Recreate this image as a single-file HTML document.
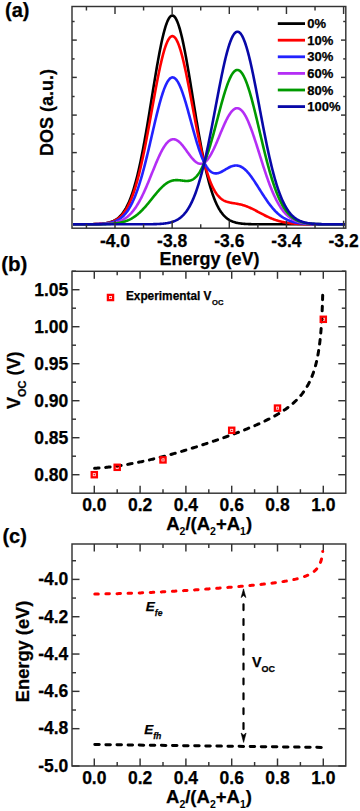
<!DOCTYPE html>
<html><head><meta charset="utf-8"><style>
html,body{margin:0;padding:0;background:#fff;width:360px;height:811px;overflow:hidden}
svg{display:block}
text{font-family:"Liberation Sans", sans-serif;font-weight:bold;fill:#000;stroke:#000;stroke-width:0.25px}
</style></head><body>
<svg width="360" height="811" viewBox="0 0 360 811">
<rect width="360" height="811" fill="#fff"/>
<g id="pa">
<path d="M73.0,224.30 L73.5,224.30 L74.0,224.30 L74.5,224.30 L75.0,224.30 L75.5,224.30 L76.0,224.30 L76.5,224.30 L77.0,224.30 L77.5,224.30 L78.0,224.29 L78.5,224.29 L79.0,224.29 L79.5,224.29 L80.0,224.29 L80.5,224.29 L81.0,224.29 L81.5,224.29 L82.0,224.29 L82.5,224.29 L83.0,224.28 L83.5,224.28 L84.0,224.28 L84.5,224.28 L85.0,224.28 L85.5,224.27 L86.0,224.27 L86.5,224.27 L87.0,224.26 L87.5,224.26 L88.0,224.26 L88.5,224.25 L89.0,224.25 L89.5,224.24 L90.0,224.23 L90.5,224.23 L91.0,224.22 L91.5,224.21 L92.0,224.20 L92.5,224.19 L93.0,224.18 L93.5,224.17 L94.0,224.16 L94.5,224.15 L95.0,224.13 L95.5,224.11 L96.0,224.10 L96.5,224.08 L97.0,224.06 L97.5,224.03 L98.0,224.01 L98.5,223.98 L99.0,223.95 L99.5,223.92 L100.0,223.89 L100.5,223.85 L101.0,223.81 L101.5,223.77 L102.0,223.72 L102.5,223.67 L103.0,223.61 L103.5,223.56 L104.0,223.49 L104.5,223.42 L105.0,223.35 L105.5,223.27 L106.0,223.19 L106.5,223.10 L107.0,223.00 L107.5,222.89 L108.0,222.78 L108.5,222.66 L109.0,222.53 L109.5,222.39 L110.0,222.25 L110.5,222.09 L111.0,221.92 L111.5,221.74 L112.0,221.55 L112.5,221.35 L113.0,221.13 L113.5,220.90 L114.0,220.65 L114.5,220.39 L115.0,220.12 L115.5,219.82 L116.0,219.51 L116.5,219.18 L117.0,218.83 L117.5,218.46 L118.0,218.07 L118.5,217.65 L119.0,217.21 L119.5,216.75 L120.0,216.26 L120.5,215.75 L121.0,215.21 L121.5,214.64 L122.0,214.04 L122.5,213.41 L123.0,212.75 L123.5,212.05 L124.0,211.32 L124.5,210.56 L125.0,209.76 L125.5,208.92 L126.0,208.05 L126.5,207.13 L127.0,206.17 L127.5,205.17 L128.0,204.13 L128.5,203.04 L129.0,201.91 L129.5,200.73 L130.0,199.51 L130.5,198.24 L131.0,196.91 L131.5,195.54 L132.0,194.12 L132.5,192.64 L133.0,191.12 L133.5,189.54 L134.0,187.91 L134.5,186.22 L135.0,184.48 L135.5,182.68 L136.0,180.83 L136.5,178.92 L137.0,176.96 L137.5,174.94 L138.0,172.87 L138.5,170.74 L139.0,168.56 L139.5,166.32 L140.0,164.03 L140.5,161.68 L141.0,159.28 L141.5,156.83 L142.0,154.33 L142.5,151.79 L143.0,149.19 L143.5,146.54 L144.0,143.86 L144.5,141.12 L145.0,138.35 L145.5,135.53 L146.0,132.68 L146.5,129.80 L147.0,126.88 L147.5,123.93 L148.0,120.95 L148.5,117.94 L149.0,114.92 L149.5,111.88 L150.0,108.82 L150.5,105.74 L151.0,102.66 L151.5,99.57 L152.0,96.48 L152.5,93.39 L153.0,90.31 L153.5,87.24 L154.0,84.17 L154.5,81.13 L155.0,78.10 L155.5,75.11 L156.0,72.14 L156.5,69.20 L157.0,66.30 L157.5,63.44 L158.0,60.63 L158.5,57.87 L159.0,55.16 L159.5,52.51 L160.0,49.93 L160.5,47.41 L161.0,44.96 L161.5,42.58 L162.0,40.28 L162.5,38.07 L163.0,35.94 L163.5,33.90 L164.0,31.95 L164.5,30.09 L165.0,28.34 L165.5,26.69 L166.0,25.14 L166.5,23.70 L167.0,22.37 L167.5,21.15 L168.0,20.05 L168.5,19.06 L169.0,18.19 L169.5,17.44 L170.0,16.81 L170.5,16.30 L171.0,15.92 L171.5,15.66 L172.0,15.52 L172.5,15.51 L173.0,15.62 L173.5,15.86 L174.0,16.22 L174.5,16.70 L175.0,17.30 L175.5,18.03 L176.0,18.88 L176.5,19.84 L177.0,20.92 L177.5,22.12 L178.0,23.42 L178.5,24.84 L179.0,26.37 L179.5,28.00 L180.0,29.73 L180.5,31.57 L181.0,33.50 L181.5,35.52 L182.0,37.63 L182.5,39.83 L183.0,42.11 L183.5,44.47 L184.0,46.91 L184.5,49.42 L185.0,51.99 L185.5,54.63 L186.0,57.32 L186.5,60.07 L187.0,62.88 L187.5,65.73 L188.0,68.62 L188.5,71.55 L189.0,74.51 L189.5,77.50 L190.0,80.52 L190.5,83.56 L191.0,86.62 L191.5,89.69 L192.0,92.78 L192.5,95.86 L193.0,98.95 L193.5,102.04 L194.0,105.13 L194.5,108.20 L195.0,111.26 L195.5,114.31 L196.0,117.34 L196.5,120.35 L197.0,123.33 L197.5,126.29 L198.0,129.21 L198.5,132.11 L199.0,134.97 L199.5,137.79 L200.0,140.57 L200.5,143.31 L201.0,146.01 L201.5,148.66 L202.0,151.27 L202.5,153.83 L203.0,156.34 L203.5,158.80 L204.0,161.21 L204.5,163.56 L205.0,165.86 L205.5,168.11 L206.0,170.31 L206.5,172.45 L207.0,174.53 L207.5,176.56 L208.0,178.53 L208.5,180.45 L209.0,182.31 L209.5,184.12 L210.0,185.87 L210.5,187.57 L211.0,189.22 L211.5,190.81 L212.0,192.34 L212.5,193.83 L213.0,195.26 L213.5,196.64 L214.0,197.98 L214.5,199.26 L215.0,200.49 L215.5,201.68 L216.0,202.82 L216.5,203.92 L217.0,204.97 L217.5,205.98 L218.0,206.94 L218.5,207.87 L219.0,208.75 L219.5,209.60 L220.0,210.40 L220.5,211.17 L221.0,211.91 L221.5,212.61 L222.0,213.28 L222.5,213.92 L223.0,214.52 L223.5,215.10 L224.0,215.64 L224.5,216.16 L225.0,216.66 L225.5,217.12 L226.0,217.57 L226.5,217.99 L227.0,218.38 L227.5,218.76 L228.0,219.11 L228.5,219.45 L229.0,219.76 L229.5,220.06 L230.0,220.34 L230.5,220.60 L231.0,220.85 L231.5,221.09 L232.0,221.31 L232.5,221.51 L233.0,221.71 L233.5,221.89 L234.0,222.06 L234.5,222.22 L235.0,222.37 L235.5,222.51 L236.0,222.64 L236.5,222.76 L237.0,222.87 L237.5,222.98 L238.0,223.08 L238.5,223.17 L239.0,223.26 L239.5,223.34 L240.0,223.41 L240.5,223.48 L241.0,223.54 L241.5,223.60 L242.0,223.66 L242.5,223.71 L243.0,223.76 L243.5,223.80 L244.0,223.84 L244.5,223.88 L245.0,223.91 L245.5,223.95 L246.0,223.98 L246.5,224.00 L247.0,224.03 L247.5,224.05 L248.0,224.07 L248.5,224.09 L249.0,224.11 L249.5,224.13 L250.0,224.14 L250.5,224.16 L251.0,224.17 L251.5,224.18 L252.0,224.19 L252.5,224.20 L253.0,224.21 L253.5,224.22 L254.0,224.23 L254.5,224.23 L255.0,224.24 L255.5,224.25 L256.0,224.25 L256.5,224.26 L257.0,224.26 L257.5,224.26 L258.0,224.27 L258.5,224.27 L259.0,224.27 L259.5,224.28 L260.0,224.28 L260.5,224.28 L261.0,224.28 L261.5,224.28 L262.0,224.29 L262.5,224.29 L263.0,224.29 L263.5,224.29 L264.0,224.29 L264.5,224.29 L265.0,224.29 L265.5,224.29 L266.0,224.29 L266.5,224.29 L267.0,224.30 L267.5,224.30 L268.0,224.30 L268.5,224.30 L269.0,224.30 L269.5,224.30 L270.0,224.30 L270.5,224.30 L271.0,224.30 L271.5,224.30 L272.0,224.30 L272.5,224.30 L273.0,224.30 L273.5,224.30 L274.0,224.30 L274.5,224.30 L275.0,224.30 L275.5,224.30 L276.0,224.30 L276.5,224.30 L277.0,224.30 L277.5,224.30 L278.0,224.30 L278.5,224.30 L279.0,224.30 L279.5,224.30 L280.0,224.30 L280.5,224.30 L281.0,224.30 L281.5,224.30 L282.0,224.30 L282.5,224.30 L283.0,224.30 L283.5,224.30 L284.0,224.30 L284.5,224.30 L285.0,224.30 L285.5,224.30 L286.0,224.30 L286.5,224.30 L287.0,224.30 L287.5,224.30 L288.0,224.30 L288.5,224.30 L289.0,224.30 L289.5,224.30 L290.0,224.30 L290.5,224.30 L291.0,224.30 L291.5,224.30 L292.0,224.30 L292.5,224.30 L293.0,224.30 L293.5,224.30 L294.0,224.30 L294.5,224.30 L295.0,224.30 L295.5,224.30 L296.0,224.30 L296.5,224.30 L297.0,224.30 L297.5,224.30 L298.0,224.30 L298.5,224.30 L299.0,224.30 L299.5,224.30 L300.0,224.30 L300.5,224.30 L301.0,224.30 L301.5,224.30 L302.0,224.30 L302.5,224.30 L303.0,224.30 L303.5,224.30 L304.0,224.30 L304.5,224.30 L305.0,224.30 L305.5,224.30 L306.0,224.30 L306.5,224.30 L307.0,224.30 L307.5,224.30 L308.0,224.30 L308.5,224.30 L309.0,224.30 L309.5,224.30 L310.0,224.30 L310.5,224.30 L311.0,224.30 L311.5,224.30 L312.0,224.30 L312.5,224.30 L313.0,224.30 L313.5,224.30 L314.0,224.30 L314.5,224.30 L315.0,224.30 L315.5,224.30 L316.0,224.30 L316.5,224.30 L317.0,224.30 L317.5,224.30 L318.0,224.30 L318.5,224.30 L319.0,224.30 L319.5,224.30 L320.0,224.30 L320.5,224.30 L321.0,224.30 L321.5,224.30 L322.0,224.30 L322.5,224.30 L323.0,224.30 L323.5,224.30 L324.0,224.30 L324.5,224.30 L325.0,224.30 L325.5,224.30 L326.0,224.30 L326.5,224.30 L327.0,224.30 L327.5,224.30 L328.0,224.30 L328.5,224.30 L329.0,224.30 L329.5,224.30 L330.0,224.30 L330.5,224.30 L331.0,224.30 L331.5,224.30 L332.0,224.30 L332.5,224.30 L333.0,224.30 L333.5,224.30 L334.0,224.30 L334.5,224.30 L335.0,224.30 L335.5,224.30 L336.0,224.30 L336.5,224.30 L337.0,224.30 L337.5,224.30 L338.0,224.30 L338.5,224.30 L339.0,224.30 L339.5,224.30 L340.0,224.30 L340.5,224.30 L341.0,224.30 L341.5,224.30 L342.0,224.30 L342.5,224.30 L343.0,224.30 L343.5,224.30 L344.0,224.30 L344.5,224.30 L345.0,224.30" fill="none" stroke="#000000" stroke-width="2.6" stroke-linejoin="round"/>
<path d="M73.0,224.30 L73.5,224.30 L74.0,224.30 L74.5,224.30 L75.0,224.30 L75.5,224.30 L76.0,224.30 L76.5,224.30 L77.0,224.30 L77.5,224.30 L78.0,224.30 L78.5,224.29 L79.0,224.29 L79.5,224.29 L80.0,224.29 L80.5,224.29 L81.0,224.29 L81.5,224.29 L82.0,224.29 L82.5,224.29 L83.0,224.29 L83.5,224.28 L84.0,224.28 L84.5,224.28 L85.0,224.28 L85.5,224.28 L86.0,224.27 L86.5,224.27 L87.0,224.27 L87.5,224.26 L88.0,224.26 L88.5,224.26 L89.0,224.25 L89.5,224.25 L90.0,224.24 L90.5,224.23 L91.0,224.23 L91.5,224.22 L92.0,224.21 L92.5,224.20 L93.0,224.19 L93.5,224.18 L94.0,224.17 L94.5,224.16 L95.0,224.15 L95.5,224.13 L96.0,224.12 L96.5,224.10 L97.0,224.08 L97.5,224.06 L98.0,224.04 L98.5,224.01 L99.0,223.99 L99.5,223.96 L100.0,223.93 L100.5,223.89 L101.0,223.86 L101.5,223.82 L102.0,223.78 L102.5,223.73 L103.0,223.68 L103.5,223.63 L104.0,223.57 L104.5,223.51 L105.0,223.45 L105.5,223.38 L106.0,223.30 L106.5,223.22 L107.0,223.13 L107.5,223.03 L108.0,222.93 L108.5,222.83 L109.0,222.71 L109.5,222.59 L110.0,222.45 L110.5,222.31 L111.0,222.16 L111.5,222.00 L112.0,221.83 L112.5,221.64 L113.0,221.45 L113.5,221.24 L114.0,221.02 L114.5,220.78 L115.0,220.53 L115.5,220.27 L116.0,219.99 L116.5,219.69 L117.0,219.38 L117.5,219.04 L118.0,218.69 L118.5,218.32 L119.0,217.92 L119.5,217.51 L120.0,217.07 L120.5,216.61 L121.0,216.12 L121.5,215.61 L122.0,215.07 L122.5,214.50 L123.0,213.90 L123.5,213.28 L124.0,212.62 L124.5,211.93 L125.0,211.21 L125.5,210.46 L126.0,209.67 L126.5,208.85 L127.0,207.98 L127.5,207.09 L128.0,206.15 L128.5,205.17 L129.0,204.15 L129.5,203.09 L130.0,201.99 L130.5,200.84 L131.0,199.65 L131.5,198.42 L132.0,197.14 L132.5,195.81 L133.0,194.44 L133.5,193.01 L134.0,191.54 L134.5,190.03 L135.0,188.46 L135.5,186.84 L136.0,185.18 L136.5,183.46 L137.0,181.69 L137.5,179.88 L138.0,178.01 L138.5,176.09 L139.0,174.13 L139.5,172.12 L140.0,170.05 L140.5,167.94 L141.0,165.78 L141.5,163.58 L142.0,161.33 L142.5,159.04 L143.0,156.70 L143.5,154.32 L144.0,151.90 L144.5,149.44 L145.0,146.94 L145.5,144.41 L146.0,141.84 L146.5,139.24 L147.0,136.61 L147.5,133.96 L148.0,131.28 L148.5,128.57 L149.0,125.85 L149.5,123.11 L150.0,120.36 L150.5,117.59 L151.0,114.82 L151.5,112.04 L152.0,109.25 L152.5,106.47 L153.0,103.70 L153.5,100.93 L154.0,98.17 L154.5,95.43 L155.0,92.71 L155.5,90.01 L156.0,87.33 L156.5,84.69 L157.0,82.08 L157.5,79.50 L158.0,76.97 L158.5,74.48 L159.0,72.04 L159.5,69.66 L160.0,67.32 L160.5,65.05 L161.0,62.84 L161.5,60.70 L162.0,58.63 L162.5,56.63 L163.0,54.71 L163.5,52.87 L164.0,51.11 L164.5,49.44 L165.0,47.85 L165.5,46.36 L166.0,44.96 L166.5,43.65 L167.0,42.45 L167.5,41.34 L168.0,40.34 L168.5,39.44 L169.0,38.65 L169.5,37.96 L170.0,37.39 L170.5,36.92 L171.0,36.56 L171.5,36.31 L172.0,36.17 L172.5,36.14 L173.0,36.23 L173.5,36.42 L174.0,36.73 L174.5,37.14 L175.0,37.66 L175.5,38.29 L176.0,39.03 L176.5,39.87 L177.0,40.82 L177.5,41.87 L178.0,43.02 L178.5,44.26 L179.0,45.60 L179.5,47.03 L180.0,48.56 L180.5,50.17 L181.0,51.87 L181.5,53.64 L182.0,55.50 L182.5,57.43 L183.0,59.44 L183.5,61.51 L184.0,63.65 L184.5,65.85 L185.0,68.10 L185.5,70.42 L186.0,72.78 L186.5,75.19 L187.0,77.64 L187.5,80.13 L188.0,82.65 L188.5,85.21 L189.0,87.79 L189.5,90.40 L190.0,93.03 L190.5,95.67 L191.0,98.33 L191.5,100.99 L192.0,103.66 L192.5,106.33 L193.0,109.00 L193.5,111.66 L194.0,114.32 L194.5,116.96 L195.0,119.59 L195.5,122.20 L196.0,124.79 L196.5,127.35 L197.0,129.89 L197.5,132.40 L198.0,134.88 L198.5,137.33 L199.0,139.73 L199.5,142.11 L200.0,144.44 L200.5,146.73 L201.0,148.98 L201.5,151.18 L202.0,153.33 L202.5,155.44 L203.0,157.50 L203.5,159.51 L204.0,161.47 L204.5,163.38 L205.0,165.24 L205.5,167.04 L206.0,168.80 L206.5,170.50 L207.0,172.14 L207.5,173.73 L208.0,175.27 L208.5,176.76 L209.0,178.19 L209.5,179.57 L210.0,180.90 L210.5,182.18 L211.0,183.40 L211.5,184.58 L212.0,185.70 L212.5,186.78 L213.0,187.81 L213.5,188.79 L214.0,189.72 L214.5,190.61 L215.0,191.46 L215.5,192.26 L216.0,193.02 L216.5,193.74 L217.0,194.42 L217.5,195.07 L218.0,195.67 L218.5,196.24 L219.0,196.78 L219.5,197.28 L220.0,197.76 L220.5,198.20 L221.0,198.61 L221.5,199.00 L222.0,199.36 L222.5,199.69 L223.0,200.00 L223.5,200.29 L224.0,200.56 L224.5,200.80 L225.0,201.03 L225.5,201.24 L226.0,201.44 L226.5,201.62 L227.0,201.79 L227.5,201.94 L228.0,202.08 L228.5,202.22 L229.0,202.34 L229.5,202.46 L230.0,202.56 L230.5,202.66 L231.0,202.76 L231.5,202.85 L232.0,202.94 L232.5,203.02 L233.0,203.10 L233.5,203.18 L234.0,203.26 L234.5,203.34 L235.0,203.42 L235.5,203.50 L236.0,203.59 L236.5,203.67 L237.0,203.76 L237.5,203.85 L238.0,203.94 L238.5,204.04 L239.0,204.15 L239.5,204.25 L240.0,204.36 L240.5,204.48 L241.0,204.60 L241.5,204.73 L242.0,204.86 L242.5,205.00 L243.0,205.14 L243.5,205.29 L244.0,205.45 L244.5,205.61 L245.0,205.78 L245.5,205.95 L246.0,206.13 L246.5,206.32 L247.0,206.51 L247.5,206.71 L248.0,206.91 L248.5,207.12 L249.0,207.33 L249.5,207.55 L250.0,207.77 L250.5,208.00 L251.0,208.23 L251.5,208.46 L252.0,208.70 L252.5,208.95 L253.0,209.19 L253.5,209.44 L254.0,209.70 L254.5,209.95 L255.0,210.21 L255.5,210.47 L256.0,210.73 L256.5,210.99 L257.0,211.26 L257.5,211.53 L258.0,211.79 L258.5,212.06 L259.0,212.33 L259.5,212.60 L260.0,212.86 L260.5,213.13 L261.0,213.40 L261.5,213.66 L262.0,213.93 L262.5,214.19 L263.0,214.45 L263.5,214.71 L264.0,214.97 L264.5,215.22 L265.0,215.48 L265.5,215.73 L266.0,215.97 L266.5,216.22 L267.0,216.46 L267.5,216.70 L268.0,216.93 L268.5,217.16 L269.0,217.39 L269.5,217.61 L270.0,217.83 L270.5,218.05 L271.0,218.26 L271.5,218.46 L272.0,218.67 L272.5,218.87 L273.0,219.06 L273.5,219.25 L274.0,219.44 L274.5,219.62 L275.0,219.79 L275.5,219.97 L276.0,220.13 L276.5,220.30 L277.0,220.46 L277.5,220.61 L278.0,220.76 L278.5,220.91 L279.0,221.05 L279.5,221.19 L280.0,221.32 L280.5,221.45 L281.0,221.57 L281.5,221.69 L282.0,221.81 L282.5,221.92 L283.0,222.03 L283.5,222.14 L284.0,222.24 L284.5,222.33 L285.0,222.43 L285.5,222.52 L286.0,222.60 L286.5,222.69 L287.0,222.77 L287.5,222.84 L288.0,222.92 L288.5,222.99 L289.0,223.06 L289.5,223.12 L290.0,223.18 L290.5,223.24 L291.0,223.30 L291.5,223.35 L292.0,223.40 L292.5,223.45 L293.0,223.50 L293.5,223.55 L294.0,223.59 L294.5,223.63 L295.0,223.67 L295.5,223.70 L296.0,223.74 L296.5,223.77 L297.0,223.80 L297.5,223.83 L298.0,223.86 L298.5,223.89 L299.0,223.91 L299.5,223.94 L300.0,223.96 L300.5,223.98 L301.0,224.00 L301.5,224.02 L302.0,224.04 L302.5,224.06 L303.0,224.07 L303.5,224.09 L304.0,224.10 L304.5,224.11 L305.0,224.13 L305.5,224.14 L306.0,224.15 L306.5,224.16 L307.0,224.17 L307.5,224.18 L308.0,224.19 L308.5,224.19 L309.0,224.20 L309.5,224.21 L310.0,224.22 L310.5,224.22 L311.0,224.23 L311.5,224.23 L312.0,224.24 L312.5,224.24 L313.0,224.25 L313.5,224.25 L314.0,224.25 L314.5,224.26 L315.0,224.26 L315.5,224.26 L316.0,224.27 L316.5,224.27 L317.0,224.27 L317.5,224.27 L318.0,224.28 L318.5,224.28 L319.0,224.28 L319.5,224.28 L320.0,224.28 L320.5,224.28 L321.0,224.29 L321.5,224.29 L322.0,224.29 L322.5,224.29 L323.0,224.29 L323.5,224.29 L324.0,224.29 L324.5,224.29 L325.0,224.29 L325.5,224.29 L326.0,224.29 L326.5,224.29 L327.0,224.30 L327.5,224.30 L328.0,224.30 L328.5,224.30 L329.0,224.30 L329.5,224.30 L330.0,224.30 L330.5,224.30 L331.0,224.30 L331.5,224.30 L332.0,224.30 L332.5,224.30 L333.0,224.30 L333.5,224.30 L334.0,224.30 L334.5,224.30 L335.0,224.30 L335.5,224.30 L336.0,224.30 L336.5,224.30 L337.0,224.30 L337.5,224.30 L338.0,224.30 L338.5,224.30 L339.0,224.30 L339.5,224.30 L340.0,224.30 L340.5,224.30 L341.0,224.30 L341.5,224.30 L342.0,224.30 L342.5,224.30 L343.0,224.30 L343.5,224.30 L344.0,224.30 L344.5,224.30 L345.0,224.30" fill="none" stroke="#ff0000" stroke-width="2.6" stroke-linejoin="round"/>
<path d="M73.0,224.30 L73.5,224.30 L74.0,224.30 L74.5,224.30 L75.0,224.30 L75.5,224.30 L76.0,224.30 L76.5,224.30 L77.0,224.30 L77.5,224.30 L78.0,224.30 L78.5,224.30 L79.0,224.30 L79.5,224.29 L80.0,224.29 L80.5,224.29 L81.0,224.29 L81.5,224.29 L82.0,224.29 L82.5,224.29 L83.0,224.29 L83.5,224.29 L84.0,224.29 L84.5,224.28 L85.0,224.28 L85.5,224.28 L86.0,224.28 L86.5,224.28 L87.0,224.27 L87.5,224.27 L88.0,224.27 L88.5,224.27 L89.0,224.26 L89.5,224.26 L90.0,224.25 L90.5,224.25 L91.0,224.24 L91.5,224.24 L92.0,224.23 L92.5,224.23 L93.0,224.22 L93.5,224.21 L94.0,224.20 L94.5,224.19 L95.0,224.18 L95.5,224.17 L96.0,224.16 L96.5,224.14 L97.0,224.13 L97.5,224.11 L98.0,224.10 L98.5,224.08 L99.0,224.06 L99.5,224.03 L100.0,224.01 L100.5,223.98 L101.0,223.96 L101.5,223.93 L102.0,223.89 L102.5,223.86 L103.0,223.82 L103.5,223.78 L104.0,223.73 L104.5,223.69 L105.0,223.64 L105.5,223.58 L106.0,223.52 L106.5,223.46 L107.0,223.39 L107.5,223.32 L108.0,223.24 L108.5,223.15 L109.0,223.06 L109.5,222.97 L110.0,222.86 L110.5,222.75 L111.0,222.64 L111.5,222.51 L112.0,222.38 L112.5,222.23 L113.0,222.08 L113.5,221.92 L114.0,221.75 L114.5,221.57 L115.0,221.37 L115.5,221.17 L116.0,220.95 L116.5,220.72 L117.0,220.47 L117.5,220.21 L118.0,219.94 L118.5,219.65 L119.0,219.34 L119.5,219.02 L120.0,218.68 L120.5,218.32 L121.0,217.94 L121.5,217.54 L122.0,217.12 L122.5,216.68 L123.0,216.21 L123.5,215.73 L124.0,215.22 L124.5,214.68 L125.0,214.12 L125.5,213.54 L126.0,212.92 L126.5,212.28 L127.0,211.61 L127.5,210.91 L128.0,210.18 L128.5,209.42 L129.0,208.63 L129.5,207.80 L130.0,206.95 L130.5,206.06 L131.0,205.13 L131.5,204.17 L132.0,203.17 L132.5,202.14 L133.0,201.07 L133.5,199.97 L134.0,198.82 L134.5,197.64 L135.0,196.42 L135.5,195.17 L136.0,193.87 L136.5,192.53 L137.0,191.16 L137.5,189.75 L138.0,188.30 L138.5,186.81 L139.0,185.28 L139.5,183.71 L140.0,182.11 L140.5,180.46 L141.0,178.78 L141.5,177.07 L142.0,175.32 L142.5,173.53 L143.0,171.72 L143.5,169.86 L144.0,167.98 L144.5,166.07 L145.0,164.13 L145.5,162.15 L146.0,160.16 L146.5,158.14 L147.0,156.09 L147.5,154.02 L148.0,151.94 L148.5,149.84 L149.0,147.72 L149.5,145.58 L150.0,143.44 L150.5,141.29 L151.0,139.13 L151.5,136.96 L152.0,134.80 L152.5,132.63 L153.0,130.47 L153.5,128.32 L154.0,126.17 L154.5,124.03 L155.0,121.91 L155.5,119.81 L156.0,117.72 L156.5,115.66 L157.0,113.63 L157.5,111.62 L158.0,109.65 L158.5,107.71 L159.0,105.80 L159.5,103.94 L160.0,102.12 L160.5,100.35 L161.0,98.62 L161.5,96.95 L162.0,95.33 L162.5,93.76 L163.0,92.26 L163.5,90.81 L164.0,89.43 L164.5,88.12 L165.0,86.87 L165.5,85.70 L166.0,84.59 L166.5,83.56 L167.0,82.61 L167.5,81.73 L168.0,80.93 L168.5,80.21 L169.0,79.57 L169.5,79.01 L170.0,78.54 L170.5,78.14 L171.0,77.83 L171.5,77.61 L172.0,77.47 L172.5,77.41 L173.0,77.44 L173.5,77.55 L174.0,77.75 L174.5,78.02 L175.0,78.38 L175.5,78.82 L176.0,79.34 L176.5,79.94 L177.0,80.62 L177.5,81.37 L178.0,82.20 L178.5,83.10 L179.0,84.06 L179.5,85.10 L180.0,86.21 L180.5,87.37 L181.0,88.60 L181.5,89.89 L182.0,91.24 L182.5,92.63 L183.0,94.08 L183.5,95.58 L184.0,97.12 L184.5,98.71 L185.0,100.33 L185.5,101.99 L186.0,103.69 L186.5,105.41 L187.0,107.16 L187.5,108.93 L188.0,110.72 L188.5,112.54 L189.0,114.36 L189.5,116.20 L190.0,118.04 L190.5,119.89 L191.0,121.74 L191.5,123.58 L192.0,125.43 L192.5,127.26 L193.0,129.09 L193.5,130.90 L194.0,132.70 L194.5,134.48 L195.0,136.23 L195.5,137.97 L196.0,139.68 L196.5,141.36 L197.0,143.01 L197.5,144.63 L198.0,146.21 L198.5,147.76 L199.0,149.27 L199.5,150.74 L200.0,152.17 L200.5,153.56 L201.0,154.91 L201.5,156.21 L202.0,157.46 L202.5,158.67 L203.0,159.83 L203.5,160.94 L204.0,162.01 L204.5,163.02 L205.0,163.99 L205.5,164.91 L206.0,165.77 L206.5,166.59 L207.0,167.36 L207.5,168.08 L208.0,168.75 L208.5,169.37 L209.0,169.94 L209.5,170.47 L210.0,170.95 L210.5,171.38 L211.0,171.77 L211.5,172.11 L212.0,172.42 L212.5,172.68 L213.0,172.89 L213.5,173.07 L214.0,173.21 L214.5,173.32 L215.0,173.39 L215.5,173.42 L216.0,173.42 L216.5,173.39 L217.0,173.34 L217.5,173.25 L218.0,173.14 L218.5,173.00 L219.0,172.84 L219.5,172.66 L220.0,172.46 L220.5,172.25 L221.0,172.01 L221.5,171.77 L222.0,171.51 L222.5,171.24 L223.0,170.96 L223.5,170.67 L224.0,170.38 L224.5,170.08 L225.0,169.78 L225.5,169.48 L226.0,169.19 L226.5,168.89 L227.0,168.60 L227.5,168.31 L228.0,168.03 L228.5,167.76 L229.0,167.50 L229.5,167.25 L230.0,167.01 L230.5,166.78 L231.0,166.57 L231.5,166.38 L232.0,166.20 L232.5,166.04 L233.0,165.90 L233.5,165.78 L234.0,165.68 L234.5,165.60 L235.0,165.54 L235.5,165.50 L236.0,165.49 L236.5,165.50 L237.0,165.54 L237.5,165.60 L238.0,165.68 L238.5,165.79 L239.0,165.92 L239.5,166.08 L240.0,166.27 L240.5,166.48 L241.0,166.72 L241.5,166.98 L242.0,167.27 L242.5,167.58 L243.0,167.92 L243.5,168.28 L244.0,168.67 L244.5,169.08 L245.0,169.51 L245.5,169.97 L246.0,170.45 L246.5,170.95 L247.0,171.47 L247.5,172.02 L248.0,172.58 L248.5,173.16 L249.0,173.77 L249.5,174.39 L250.0,175.02 L250.5,175.68 L251.0,176.34 L251.5,177.03 L252.0,177.72 L252.5,178.43 L253.0,179.16 L253.5,179.89 L254.0,180.63 L254.5,181.39 L255.0,182.15 L255.5,182.92 L256.0,183.69 L256.5,184.47 L257.0,185.26 L257.5,186.05 L258.0,186.85 L258.5,187.64 L259.0,188.44 L259.5,189.24 L260.0,190.04 L260.5,190.83 L261.0,191.63 L261.5,192.42 L262.0,193.21 L262.5,194.00 L263.0,194.78 L263.5,195.55 L264.0,196.32 L264.5,197.09 L265.0,197.84 L265.5,198.59 L266.0,199.33 L266.5,200.06 L267.0,200.78 L267.5,201.49 L268.0,202.20 L268.5,202.89 L269.0,203.57 L269.5,204.24 L270.0,204.89 L270.5,205.54 L271.0,206.17 L271.5,206.79 L272.0,207.40 L272.5,208.00 L273.0,208.58 L273.5,209.15 L274.0,209.71 L274.5,210.25 L275.0,210.78 L275.5,211.30 L276.0,211.80 L276.5,212.29 L277.0,212.77 L277.5,213.24 L278.0,213.69 L278.5,214.12 L279.0,214.55 L279.5,214.96 L280.0,215.36 L280.5,215.74 L281.0,216.12 L281.5,216.48 L282.0,216.83 L282.5,217.17 L283.0,217.49 L283.5,217.81 L284.0,218.11 L284.5,218.40 L285.0,218.68 L285.5,218.95 L286.0,219.21 L286.5,219.46 L287.0,219.70 L287.5,219.93 L288.0,220.15 L288.5,220.37 L289.0,220.57 L289.5,220.76 L290.0,220.95 L290.5,221.13 L291.0,221.30 L291.5,221.46 L292.0,221.61 L292.5,221.76 L293.0,221.90 L293.5,222.04 L294.0,222.16 L294.5,222.29 L295.0,222.40 L295.5,222.51 L296.0,222.62 L296.5,222.72 L297.0,222.81 L297.5,222.90 L298.0,222.98 L298.5,223.06 L299.0,223.14 L299.5,223.21 L300.0,223.28 L300.5,223.34 L301.0,223.40 L301.5,223.46 L302.0,223.51 L302.5,223.57 L303.0,223.61 L303.5,223.66 L304.0,223.70 L304.5,223.74 L305.0,223.78 L305.5,223.81 L306.0,223.85 L306.5,223.88 L307.0,223.91 L307.5,223.93 L308.0,223.96 L308.5,223.98 L309.0,224.01 L309.5,224.03 L310.0,224.05 L310.5,224.07 L311.0,224.08 L311.5,224.10 L312.0,224.11 L312.5,224.13 L313.0,224.14 L313.5,224.15 L314.0,224.16 L314.5,224.17 L315.0,224.18 L315.5,224.19 L316.0,224.20 L316.5,224.21 L317.0,224.22 L317.5,224.22 L318.0,224.23 L318.5,224.23 L319.0,224.24 L319.5,224.24 L320.0,224.25 L320.5,224.25 L321.0,224.26 L321.5,224.26 L322.0,224.26 L322.5,224.27 L323.0,224.27 L323.5,224.27 L324.0,224.27 L324.5,224.28 L325.0,224.28 L325.5,224.28 L326.0,224.28 L326.5,224.28 L327.0,224.29 L327.5,224.29 L328.0,224.29 L328.5,224.29 L329.0,224.29 L329.5,224.29 L330.0,224.29 L330.5,224.29 L331.0,224.29 L331.5,224.29 L332.0,224.29 L332.5,224.29 L333.0,224.30 L333.5,224.30 L334.0,224.30 L334.5,224.30 L335.0,224.30 L335.5,224.30 L336.0,224.30 L336.5,224.30 L337.0,224.30 L337.5,224.30 L338.0,224.30 L338.5,224.30 L339.0,224.30 L339.5,224.30 L340.0,224.30 L340.5,224.30 L341.0,224.30 L341.5,224.30 L342.0,224.30 L342.5,224.30 L343.0,224.30 L343.5,224.30 L344.0,224.30 L344.5,224.30 L345.0,224.30" fill="none" stroke="#2222ff" stroke-width="2.6" stroke-linejoin="round"/>
<path d="M73.0,224.30 L73.5,224.30 L74.0,224.30 L74.5,224.30 L75.0,224.30 L75.5,224.30 L76.0,224.30 L76.5,224.30 L77.0,224.30 L77.5,224.30 L78.0,224.30 L78.5,224.30 L79.0,224.30 L79.5,224.30 L80.0,224.30 L80.5,224.30 L81.0,224.30 L81.5,224.30 L82.0,224.29 L82.5,224.29 L83.0,224.29 L83.5,224.29 L84.0,224.29 L84.5,224.29 L85.0,224.29 L85.5,224.29 L86.0,224.29 L86.5,224.29 L87.0,224.29 L87.5,224.28 L88.0,224.28 L88.5,224.28 L89.0,224.28 L89.5,224.28 L90.0,224.27 L90.5,224.27 L91.0,224.27 L91.5,224.26 L92.0,224.26 L92.5,224.26 L93.0,224.25 L93.5,224.25 L94.0,224.24 L94.5,224.24 L95.0,224.23 L95.5,224.23 L96.0,224.22 L96.5,224.21 L97.0,224.20 L97.5,224.19 L98.0,224.18 L98.5,224.17 L99.0,224.16 L99.5,224.15 L100.0,224.13 L100.5,224.12 L101.0,224.10 L101.5,224.09 L102.0,224.07 L102.5,224.05 L103.0,224.03 L103.5,224.00 L104.0,223.98 L104.5,223.95 L105.0,223.92 L105.5,223.89 L106.0,223.86 L106.5,223.82 L107.0,223.78 L107.5,223.74 L108.0,223.69 L108.5,223.64 L109.0,223.59 L109.5,223.54 L110.0,223.48 L110.5,223.42 L111.0,223.35 L111.5,223.28 L112.0,223.20 L112.5,223.12 L113.0,223.03 L113.5,222.94 L114.0,222.84 L114.5,222.74 L115.0,222.63 L115.5,222.51 L116.0,222.38 L116.5,222.25 L117.0,222.11 L117.5,221.96 L118.0,221.81 L118.5,221.64 L119.0,221.47 L119.5,221.28 L120.0,221.09 L120.5,220.88 L121.0,220.66 L121.5,220.44 L122.0,220.20 L122.5,219.94 L123.0,219.68 L123.5,219.40 L124.0,219.11 L124.5,218.80 L125.0,218.48 L125.5,218.15 L126.0,217.80 L126.5,217.43 L127.0,217.05 L127.5,216.65 L128.0,216.23 L128.5,215.80 L129.0,215.34 L129.5,214.87 L130.0,214.38 L130.5,213.87 L131.0,213.34 L131.5,212.80 L132.0,212.23 L132.5,211.64 L133.0,211.03 L133.5,210.39 L134.0,209.74 L134.5,209.07 L135.0,208.37 L135.5,207.65 L136.0,206.91 L136.5,206.15 L137.0,205.36 L137.5,204.55 L138.0,203.72 L138.5,202.87 L139.0,202.00 L139.5,201.10 L140.0,200.18 L140.5,199.25 L141.0,198.29 L141.5,197.31 L142.0,196.30 L142.5,195.28 L143.0,194.24 L143.5,193.19 L144.0,192.11 L144.5,191.01 L145.0,189.90 L145.5,188.78 L146.0,187.63 L146.5,186.48 L147.0,185.31 L147.5,184.12 L148.0,182.93 L148.5,181.73 L149.0,180.51 L149.5,179.29 L150.0,178.06 L150.5,176.83 L151.0,175.59 L151.5,174.35 L152.0,173.11 L152.5,171.87 L153.0,170.63 L153.5,169.40 L154.0,168.16 L154.5,166.94 L155.0,165.72 L155.5,164.51 L156.0,163.31 L156.5,162.13 L157.0,160.96 L157.5,159.80 L158.0,158.66 L158.5,157.54 L159.0,156.45 L159.5,155.37 L160.0,154.32 L160.5,153.29 L161.0,152.29 L161.5,151.32 L162.0,150.37 L162.5,149.46 L163.0,148.58 L163.5,147.73 L164.0,146.92 L164.5,146.15 L165.0,145.41 L165.5,144.71 L166.0,144.05 L166.5,143.43 L167.0,142.85 L167.5,142.31 L168.0,141.81 L168.5,141.36 L169.0,140.95 L169.5,140.58 L170.0,140.26 L170.5,139.98 L171.0,139.75 L171.5,139.56 L172.0,139.41 L172.5,139.31 L173.0,139.26 L173.5,139.24 L174.0,139.27 L174.5,139.35 L175.0,139.46 L175.5,139.61 L176.0,139.81 L176.5,140.04 L177.0,140.31 L177.5,140.62 L178.0,140.97 L178.5,141.35 L179.0,141.76 L179.5,142.20 L180.0,142.68 L180.5,143.18 L181.0,143.71 L181.5,144.26 L182.0,144.84 L182.5,145.44 L183.0,146.05 L183.5,146.69 L184.0,147.34 L184.5,148.00 L185.0,148.67 L185.5,149.36 L186.0,150.05 L186.5,150.74 L187.0,151.44 L187.5,152.14 L188.0,152.83 L188.5,153.52 L189.0,154.21 L189.5,154.89 L190.0,155.55 L190.5,156.21 L191.0,156.85 L191.5,157.47 L192.0,158.08 L192.5,158.66 L193.0,159.22 L193.5,159.76 L194.0,160.27 L194.5,160.75 L195.0,161.20 L195.5,161.62 L196.0,162.01 L196.5,162.37 L197.0,162.68 L197.5,162.97 L198.0,163.21 L198.5,163.41 L199.0,163.58 L199.5,163.70 L200.0,163.78 L200.5,163.81 L201.0,163.80 L201.5,163.75 L202.0,163.65 L202.5,163.51 L203.0,163.32 L203.5,163.09 L204.0,162.81 L204.5,162.49 L205.0,162.12 L205.5,161.70 L206.0,161.24 L206.5,160.74 L207.0,160.19 L207.5,159.60 L208.0,158.96 L208.5,158.29 L209.0,157.57 L209.5,156.82 L210.0,156.02 L210.5,155.19 L211.0,154.32 L211.5,153.42 L212.0,152.49 L212.5,151.52 L213.0,150.53 L213.5,149.50 L214.0,148.45 L214.5,147.38 L215.0,146.28 L215.5,145.16 L216.0,144.03 L216.5,142.87 L217.0,141.70 L217.5,140.53 L218.0,139.34 L218.5,138.14 L219.0,136.94 L219.5,135.73 L220.0,134.52 L220.5,133.32 L221.0,132.11 L221.5,130.92 L222.0,129.73 L222.5,128.55 L223.0,127.39 L223.5,126.24 L224.0,125.11 L224.5,124.00 L225.0,122.91 L225.5,121.84 L226.0,120.80 L226.5,119.79 L227.0,118.81 L227.5,117.86 L228.0,116.95 L228.5,116.07 L229.0,115.24 L229.5,114.44 L230.0,113.68 L230.5,112.97 L231.0,112.30 L231.5,111.67 L232.0,111.10 L232.5,110.57 L233.0,110.09 L233.5,109.67 L234.0,109.30 L234.5,108.98 L235.0,108.71 L235.5,108.50 L236.0,108.34 L236.5,108.24 L237.0,108.20 L237.5,108.21 L238.0,108.28 L238.5,108.41 L239.0,108.59 L239.5,108.83 L240.0,109.13 L240.5,109.48 L241.0,109.89 L241.5,110.36 L242.0,110.88 L242.5,111.45 L243.0,112.08 L243.5,112.76 L244.0,113.49 L244.5,114.28 L245.0,115.11 L245.5,115.99 L246.0,116.92 L246.5,117.90 L247.0,118.92 L247.5,119.98 L248.0,121.09 L248.5,122.24 L249.0,123.42 L249.5,124.64 L250.0,125.90 L250.5,127.19 L251.0,128.52 L251.5,129.87 L252.0,131.26 L252.5,132.67 L253.0,134.10 L253.5,135.56 L254.0,137.04 L254.5,138.54 L255.0,140.06 L255.5,141.59 L256.0,143.14 L256.5,144.69 L257.0,146.26 L257.5,147.84 L258.0,149.42 L258.5,151.01 L259.0,152.61 L259.5,154.20 L260.0,155.79 L260.5,157.39 L261.0,158.97 L261.5,160.56 L262.0,162.14 L262.5,163.70 L263.0,165.27 L263.5,166.82 L264.0,168.35 L264.5,169.88 L265.0,171.39 L265.5,172.89 L266.0,174.36 L266.5,175.83 L267.0,177.27 L267.5,178.69 L268.0,180.10 L268.5,181.48 L269.0,182.84 L269.5,184.18 L270.0,185.49 L270.5,186.78 L271.0,188.05 L271.5,189.29 L272.0,190.51 L272.5,191.70 L273.0,192.87 L273.5,194.01 L274.0,195.12 L274.5,196.21 L275.0,197.27 L275.5,198.30 L276.0,199.31 L276.5,200.29 L277.0,201.24 L277.5,202.17 L278.0,203.07 L278.5,203.95 L279.0,204.80 L279.5,205.62 L280.0,206.42 L280.5,207.19 L281.0,207.94 L281.5,208.66 L282.0,209.36 L282.5,210.03 L283.0,210.69 L283.5,211.31 L284.0,211.92 L284.5,212.50 L285.0,213.07 L285.5,213.61 L286.0,214.13 L286.5,214.63 L287.0,215.11 L287.5,215.57 L288.0,216.01 L288.5,216.43 L289.0,216.84 L289.5,217.23 L290.0,217.60 L290.5,217.95 L291.0,218.29 L291.5,218.62 L292.0,218.93 L292.5,219.22 L293.0,219.50 L293.5,219.77 L294.0,220.03 L294.5,220.27 L295.0,220.50 L295.5,220.72 L296.0,220.93 L296.5,221.13 L297.0,221.32 L297.5,221.50 L298.0,221.67 L298.5,221.83 L299.0,221.98 L299.5,222.12 L300.0,222.26 L300.5,222.39 L301.0,222.51 L301.5,222.62 L302.0,222.73 L302.5,222.83 L303.0,222.93 L303.5,223.02 L304.0,223.10 L304.5,223.18 L305.0,223.26 L305.5,223.33 L306.0,223.39 L306.5,223.46 L307.0,223.51 L307.5,223.57 L308.0,223.62 L308.5,223.67 L309.0,223.71 L309.5,223.75 L310.0,223.79 L310.5,223.83 L311.0,223.86 L311.5,223.90 L312.0,223.93 L312.5,223.95 L313.0,223.98 L313.5,224.00 L314.0,224.03 L314.5,224.05 L315.0,224.07 L315.5,224.08 L316.0,224.10 L316.5,224.12 L317.0,224.13 L317.5,224.14 L318.0,224.16 L318.5,224.17 L319.0,224.18 L319.5,224.19 L320.0,224.20 L320.5,224.21 L321.0,224.21 L321.5,224.22 L322.0,224.23 L322.5,224.23 L323.0,224.24 L323.5,224.24 L324.0,224.25 L324.5,224.25 L325.0,224.26 L325.5,224.26 L326.0,224.26 L326.5,224.27 L327.0,224.27 L327.5,224.27 L328.0,224.28 L328.5,224.28 L329.0,224.28 L329.5,224.28 L330.0,224.28 L330.5,224.28 L331.0,224.29 L331.5,224.29 L332.0,224.29 L332.5,224.29 L333.0,224.29 L333.5,224.29 L334.0,224.29 L334.5,224.29 L335.0,224.29 L335.5,224.29 L336.0,224.29 L336.5,224.30 L337.0,224.30 L337.5,224.30 L338.0,224.30 L338.5,224.30 L339.0,224.30 L339.5,224.30 L340.0,224.30 L340.5,224.30 L341.0,224.30 L341.5,224.30 L342.0,224.30 L342.5,224.30 L343.0,224.30 L343.5,224.30 L344.0,224.30 L344.5,224.30 L345.0,224.30" fill="none" stroke="#b42ef5" stroke-width="2.6" stroke-linejoin="round"/>
<path d="M73.0,224.30 L73.5,224.30 L74.0,224.30 L74.5,224.30 L75.0,224.30 L75.5,224.30 L76.0,224.30 L76.5,224.30 L77.0,224.30 L77.5,224.30 L78.0,224.30 L78.5,224.30 L79.0,224.30 L79.5,224.30 L80.0,224.30 L80.5,224.30 L81.0,224.30 L81.5,224.30 L82.0,224.30 L82.5,224.30 L83.0,224.30 L83.5,224.30 L84.0,224.30 L84.5,224.30 L85.0,224.30 L85.5,224.29 L86.0,224.29 L86.5,224.29 L87.0,224.29 L87.5,224.29 L88.0,224.29 L88.5,224.29 L89.0,224.29 L89.5,224.29 L90.0,224.29 L90.5,224.29 L91.0,224.28 L91.5,224.28 L92.0,224.28 L92.5,224.28 L93.0,224.28 L93.5,224.27 L94.0,224.27 L94.5,224.27 L95.0,224.27 L95.5,224.26 L96.0,224.26 L96.5,224.26 L97.0,224.25 L97.5,224.25 L98.0,224.24 L98.5,224.24 L99.0,224.23 L99.5,224.22 L100.0,224.22 L100.5,224.21 L101.0,224.20 L101.5,224.19 L102.0,224.18 L102.5,224.17 L103.0,224.16 L103.5,224.15 L104.0,224.14 L104.5,224.12 L105.0,224.11 L105.5,224.09 L106.0,224.08 L106.5,224.06 L107.0,224.04 L107.5,224.02 L108.0,224.00 L108.5,223.97 L109.0,223.95 L109.5,223.92 L110.0,223.89 L110.5,223.86 L111.0,223.82 L111.5,223.79 L112.0,223.75 L112.5,223.71 L113.0,223.67 L113.5,223.62 L114.0,223.57 L114.5,223.52 L115.0,223.46 L115.5,223.40 L116.0,223.34 L116.5,223.28 L117.0,223.21 L117.5,223.13 L118.0,223.05 L118.5,222.97 L119.0,222.88 L119.5,222.79 L120.0,222.69 L120.5,222.59 L121.0,222.48 L121.5,222.37 L122.0,222.25 L122.5,222.12 L123.0,221.99 L123.5,221.85 L124.0,221.70 L124.5,221.55 L125.0,221.39 L125.5,221.22 L126.0,221.05 L126.5,220.87 L127.0,220.67 L127.5,220.47 L128.0,220.27 L128.5,220.05 L129.0,219.82 L129.5,219.59 L130.0,219.34 L130.5,219.09 L131.0,218.82 L131.5,218.55 L132.0,218.26 L132.5,217.97 L133.0,217.66 L133.5,217.35 L134.0,217.02 L134.5,216.68 L135.0,216.33 L135.5,215.97 L136.0,215.60 L136.5,215.22 L137.0,214.83 L137.5,214.42 L138.0,214.01 L138.5,213.58 L139.0,213.14 L139.5,212.70 L140.0,212.24 L140.5,211.77 L141.0,211.29 L141.5,210.80 L142.0,210.29 L142.5,209.78 L143.0,209.26 L143.5,208.73 L144.0,208.19 L144.5,207.64 L145.0,207.09 L145.5,206.52 L146.0,205.95 L146.5,205.37 L147.0,204.78 L147.5,204.19 L148.0,203.59 L148.5,202.99 L149.0,202.38 L149.5,201.76 L150.0,201.15 L150.5,200.53 L151.0,199.90 L151.5,199.28 L152.0,198.66 L152.5,198.03 L153.0,197.41 L153.5,196.78 L154.0,196.16 L154.5,195.54 L155.0,194.92 L155.5,194.31 L156.0,193.71 L156.5,193.10 L157.0,192.51 L157.5,191.92 L158.0,191.34 L158.5,190.77 L159.0,190.21 L159.5,189.66 L160.0,189.11 L160.5,188.58 L161.0,188.07 L161.5,187.56 L162.0,187.07 L162.5,186.59 L163.0,186.13 L163.5,185.68 L164.0,185.25 L164.5,184.83 L165.0,184.43 L165.5,184.05 L166.0,183.68 L166.5,183.34 L167.0,183.01 L167.5,182.69 L168.0,182.40 L168.5,182.13 L169.0,181.87 L169.5,181.63 L170.0,181.41 L170.5,181.21 L171.0,181.03 L171.5,180.86 L172.0,180.71 L172.5,180.58 L173.0,180.47 L173.5,180.37 L174.0,180.29 L174.5,180.23 L175.0,180.18 L175.5,180.14 L176.0,180.12 L176.5,180.11 L177.0,180.11 L177.5,180.13 L178.0,180.15 L178.5,180.18 L179.0,180.22 L179.5,180.27 L180.0,180.32 L180.5,180.38 L181.0,180.44 L181.5,180.51 L182.0,180.57 L182.5,180.64 L183.0,180.70 L183.5,180.76 L184.0,180.81 L184.5,180.86 L185.0,180.90 L185.5,180.93 L186.0,180.96 L186.5,180.96 L187.0,180.96 L187.5,180.94 L188.0,180.90 L188.5,180.85 L189.0,180.78 L189.5,180.68 L190.0,180.57 L190.5,180.42 L191.0,180.26 L191.5,180.06 L192.0,179.84 L192.5,179.59 L193.0,179.31 L193.5,179.00 L194.0,178.65 L194.5,178.27 L195.0,177.85 L195.5,177.40 L196.0,176.90 L196.5,176.37 L197.0,175.80 L197.5,175.19 L198.0,174.54 L198.5,173.85 L199.0,173.11 L199.5,172.33 L200.0,171.51 L200.5,170.64 L201.0,169.73 L201.5,168.78 L202.0,167.78 L202.5,166.74 L203.0,165.65 L203.5,164.52 L204.0,163.35 L204.5,162.13 L205.0,160.87 L205.5,159.57 L206.0,158.22 L206.5,156.84 L207.0,155.41 L207.5,153.94 L208.0,152.44 L208.5,150.90 L209.0,149.33 L209.5,147.71 L210.0,146.07 L210.5,144.40 L211.0,142.69 L211.5,140.96 L212.0,139.20 L212.5,137.42 L213.0,135.61 L213.5,133.79 L214.0,131.94 L214.5,130.08 L215.0,128.21 L215.5,126.32 L216.0,124.43 L216.5,122.52 L217.0,120.62 L217.5,118.71 L218.0,116.80 L218.5,114.90 L219.0,113.00 L219.5,111.11 L220.0,109.23 L220.5,107.36 L221.0,105.52 L221.5,103.69 L222.0,101.88 L222.5,100.10 L223.0,98.35 L223.5,96.62 L224.0,94.93 L224.5,93.28 L225.0,91.66 L225.5,90.08 L226.0,88.55 L226.5,87.06 L227.0,85.62 L227.5,84.23 L228.0,82.90 L228.5,81.62 L229.0,80.39 L229.5,79.23 L230.0,78.13 L230.5,77.09 L231.0,76.11 L231.5,75.20 L232.0,74.36 L232.5,73.59 L233.0,72.89 L233.5,72.26 L234.0,71.71 L234.5,71.23 L235.0,70.82 L235.5,70.50 L236.0,70.25 L236.5,70.07 L237.0,69.97 L237.5,69.96 L238.0,70.02 L238.5,70.15 L239.0,70.37 L239.5,70.66 L240.0,71.03 L240.5,71.48 L241.0,72.01 L241.5,72.61 L242.0,73.28 L242.5,74.03 L243.0,74.85 L243.5,75.75 L244.0,76.71 L244.5,77.74 L245.0,78.84 L245.5,80.01 L246.0,81.24 L246.5,82.53 L247.0,83.88 L247.5,85.29 L248.0,86.76 L248.5,88.28 L249.0,89.86 L249.5,91.48 L250.0,93.16 L250.5,94.87 L251.0,96.64 L251.5,98.44 L252.0,100.28 L252.5,102.16 L253.0,104.07 L253.5,106.01 L254.0,107.98 L254.5,109.98 L255.0,112.00 L255.5,114.04 L256.0,116.10 L256.5,118.17 L257.0,120.26 L257.5,122.37 L258.0,124.48 L258.5,126.59 L259.0,128.72 L259.5,130.84 L260.0,132.96 L260.5,135.09 L261.0,137.20 L261.5,139.32 L262.0,141.42 L262.5,143.51 L263.0,145.59 L263.5,147.66 L264.0,149.71 L264.5,151.74 L265.0,153.76 L265.5,155.75 L266.0,157.72 L266.5,159.67 L267.0,161.59 L267.5,163.49 L268.0,165.36 L268.5,167.21 L269.0,169.02 L269.5,170.80 L270.0,172.56 L270.5,174.28 L271.0,175.97 L271.5,177.62 L272.0,179.25 L272.5,180.83 L273.0,182.39 L273.5,183.91 L274.0,185.39 L274.5,186.84 L275.0,188.26 L275.5,189.63 L276.0,190.98 L276.5,192.29 L277.0,193.56 L277.5,194.79 L278.0,196.00 L278.5,197.16 L279.0,198.29 L279.5,199.39 L280.0,200.46 L280.5,201.49 L281.0,202.48 L281.5,203.45 L282.0,204.38 L282.5,205.28 L283.0,206.15 L283.5,206.99 L284.0,207.79 L284.5,208.57 L285.0,209.32 L285.5,210.04 L286.0,210.74 L286.5,211.40 L287.0,212.04 L287.5,212.66 L288.0,213.24 L288.5,213.81 L289.0,214.35 L289.5,214.87 L290.0,215.36 L290.5,215.84 L291.0,216.29 L291.5,216.72 L292.0,217.14 L292.5,217.53 L293.0,217.91 L293.5,218.26 L294.0,218.60 L294.5,218.93 L295.0,219.24 L295.5,219.53 L296.0,219.81 L296.5,220.07 L297.0,220.32 L297.5,220.56 L298.0,220.79 L298.5,221.00 L299.0,221.20 L299.5,221.40 L300.0,221.58 L300.5,221.75 L301.0,221.91 L301.5,222.06 L302.0,222.20 L302.5,222.34 L303.0,222.47 L303.5,222.59 L304.0,222.70 L304.5,222.81 L305.0,222.91 L305.5,223.00 L306.0,223.09 L306.5,223.17 L307.0,223.25 L307.5,223.32 L308.0,223.39 L308.5,223.46 L309.0,223.52 L309.5,223.57 L310.0,223.62 L310.5,223.67 L311.0,223.72 L311.5,223.76 L312.0,223.80 L312.5,223.84 L313.0,223.87 L313.5,223.91 L314.0,223.94 L314.5,223.96 L315.0,223.99 L315.5,224.01 L316.0,224.04 L316.5,224.06 L317.0,224.08 L317.5,224.09 L318.0,224.11 L318.5,224.12 L319.0,224.14 L319.5,224.15 L320.0,224.16 L320.5,224.17 L321.0,224.19 L321.5,224.19 L322.0,224.20 L322.5,224.21 L323.0,224.22 L323.5,224.23 L324.0,224.23 L324.5,224.24 L325.0,224.24 L325.5,224.25 L326.0,224.25 L326.5,224.26 L327.0,224.26 L327.5,224.26 L328.0,224.27 L328.5,224.27 L329.0,224.27 L329.5,224.28 L330.0,224.28 L330.5,224.28 L331.0,224.28 L331.5,224.28 L332.0,224.28 L332.5,224.29 L333.0,224.29 L333.5,224.29 L334.0,224.29 L334.5,224.29 L335.0,224.29 L335.5,224.29 L336.0,224.29 L336.5,224.29 L337.0,224.29 L337.5,224.29 L338.0,224.30 L338.5,224.30 L339.0,224.30 L339.5,224.30 L340.0,224.30 L340.5,224.30 L341.0,224.30 L341.5,224.30 L342.0,224.30 L342.5,224.30 L343.0,224.30 L343.5,224.30 L344.0,224.30 L344.5,224.30 L345.0,224.30" fill="none" stroke="#009a00" stroke-width="2.6" stroke-linejoin="round"/>
<path d="M73.0,224.30 L73.5,224.30 L74.0,224.30 L74.5,224.30 L75.0,224.30 L75.5,224.30 L76.0,224.30 L76.5,224.30 L77.0,224.30 L77.5,224.30 L78.0,224.30 L78.5,224.30 L79.0,224.30 L79.5,224.30 L80.0,224.30 L80.5,224.30 L81.0,224.30 L81.5,224.30 L82.0,224.30 L82.5,224.30 L83.0,224.30 L83.5,224.30 L84.0,224.30 L84.5,224.30 L85.0,224.30 L85.5,224.30 L86.0,224.30 L86.5,224.30 L87.0,224.30 L87.5,224.30 L88.0,224.30 L88.5,224.30 L89.0,224.30 L89.5,224.30 L90.0,224.30 L90.5,224.30 L91.0,224.30 L91.5,224.30 L92.0,224.30 L92.5,224.30 L93.0,224.30 L93.5,224.30 L94.0,224.30 L94.5,224.30 L95.0,224.30 L95.5,224.30 L96.0,224.30 L96.5,224.30 L97.0,224.30 L97.5,224.30 L98.0,224.30 L98.5,224.30 L99.0,224.30 L99.5,224.30 L100.0,224.30 L100.5,224.30 L101.0,224.30 L101.5,224.30 L102.0,224.30 L102.5,224.30 L103.0,224.30 L103.5,224.30 L104.0,224.30 L104.5,224.30 L105.0,224.30 L105.5,224.30 L106.0,224.30 L106.5,224.30 L107.0,224.30 L107.5,224.30 L108.0,224.30 L108.5,224.30 L109.0,224.30 L109.5,224.30 L110.0,224.30 L110.5,224.30 L111.0,224.30 L111.5,224.30 L112.0,224.30 L112.5,224.30 L113.0,224.30 L113.5,224.30 L114.0,224.30 L114.5,224.30 L115.0,224.30 L115.5,224.30 L116.0,224.30 L116.5,224.30 L117.0,224.30 L117.5,224.30 L118.0,224.30 L118.5,224.30 L119.0,224.30 L119.5,224.30 L120.0,224.30 L120.5,224.30 L121.0,224.30 L121.5,224.30 L122.0,224.30 L122.5,224.30 L123.0,224.30 L123.5,224.30 L124.0,224.30 L124.5,224.30 L125.0,224.30 L125.5,224.30 L126.0,224.30 L126.5,224.30 L127.0,224.30 L127.5,224.30 L128.0,224.30 L128.5,224.30 L129.0,224.30 L129.5,224.30 L130.0,224.30 L130.5,224.30 L131.0,224.30 L131.5,224.30 L132.0,224.30 L132.5,224.30 L133.0,224.30 L133.5,224.30 L134.0,224.30 L134.5,224.30 L135.0,224.30 L135.5,224.30 L136.0,224.30 L136.5,224.29 L137.0,224.29 L137.5,224.29 L138.0,224.29 L138.5,224.29 L139.0,224.29 L139.5,224.29 L140.0,224.29 L140.5,224.29 L141.0,224.29 L141.5,224.29 L142.0,224.28 L142.5,224.28 L143.0,224.28 L143.5,224.28 L144.0,224.28 L144.5,224.27 L145.0,224.27 L145.5,224.27 L146.0,224.27 L146.5,224.26 L147.0,224.26 L147.5,224.26 L148.0,224.25 L148.5,224.25 L149.0,224.24 L149.5,224.24 L150.0,224.23 L150.5,224.22 L151.0,224.22 L151.5,224.21 L152.0,224.20 L152.5,224.19 L153.0,224.18 L153.5,224.17 L154.0,224.16 L154.5,224.14 L155.0,224.13 L155.5,224.11 L156.0,224.10 L156.5,224.08 L157.0,224.06 L157.5,224.04 L158.0,224.02 L158.5,223.99 L159.0,223.97 L159.5,223.94 L160.0,223.91 L160.5,223.88 L161.0,223.84 L161.5,223.81 L162.0,223.77 L162.5,223.72 L163.0,223.68 L163.5,223.63 L164.0,223.57 L164.5,223.52 L165.0,223.46 L165.5,223.39 L166.0,223.32 L166.5,223.25 L167.0,223.17 L167.5,223.08 L168.0,222.99 L168.5,222.89 L169.0,222.79 L169.5,222.68 L170.0,222.56 L170.5,222.44 L171.0,222.30 L171.5,222.16 L172.0,222.01 L172.5,221.85 L173.0,221.68 L173.5,221.50 L174.0,221.31 L174.5,221.11 L175.0,220.90 L175.5,220.67 L176.0,220.43 L176.5,220.18 L177.0,219.91 L177.5,219.63 L178.0,219.33 L178.5,219.02 L179.0,218.69 L179.5,218.34 L180.0,217.97 L180.5,217.59 L181.0,217.18 L181.5,216.75 L182.0,216.31 L182.5,215.84 L183.0,215.35 L183.5,214.83 L184.0,214.29 L184.5,213.72 L185.0,213.13 L185.5,212.51 L186.0,211.86 L186.5,211.19 L187.0,210.48 L187.5,209.74 L188.0,208.98 L188.5,208.18 L189.0,207.34 L189.5,206.48 L190.0,205.58 L190.5,204.64 L191.0,203.67 L191.5,202.66 L192.0,201.61 L192.5,200.52 L193.0,199.40 L193.5,198.23 L194.0,197.03 L194.5,195.78 L195.0,194.50 L195.5,193.17 L196.0,191.79 L196.5,190.38 L197.0,188.92 L197.5,187.42 L198.0,185.87 L198.5,184.28 L199.0,182.65 L199.5,180.97 L200.0,179.25 L200.5,177.48 L201.0,175.67 L201.5,173.81 L202.0,171.91 L202.5,169.97 L203.0,167.98 L203.5,165.95 L204.0,163.88 L204.5,161.77 L205.0,159.62 L205.5,157.43 L206.0,155.20 L206.5,152.93 L207.0,150.63 L207.5,148.29 L208.0,145.92 L208.5,143.51 L209.0,141.08 L209.5,138.61 L210.0,136.12 L210.5,133.60 L211.0,131.06 L211.5,128.50 L212.0,125.92 L212.5,123.32 L213.0,120.70 L213.5,118.07 L214.0,115.43 L214.5,112.79 L215.0,110.14 L215.5,107.48 L216.0,104.83 L216.5,102.18 L217.0,99.53 L217.5,96.89 L218.0,94.27 L218.5,91.65 L219.0,89.06 L219.5,86.49 L220.0,83.94 L220.5,81.41 L221.0,78.92 L221.5,76.46 L222.0,74.03 L222.5,71.65 L223.0,69.30 L223.5,67.00 L224.0,64.75 L224.5,62.55 L225.0,60.41 L225.5,58.32 L226.0,56.30 L226.5,54.33 L227.0,52.43 L227.5,50.60 L228.0,48.85 L228.5,47.16 L229.0,45.55 L229.5,44.02 L230.0,42.57 L230.5,41.21 L231.0,39.93 L231.5,38.73 L232.0,37.63 L232.5,36.61 L233.0,35.69 L233.5,34.86 L234.0,34.12 L234.5,33.48 L235.0,32.94 L235.5,32.49 L236.0,32.15 L236.5,31.90 L237.0,31.75 L237.5,31.70 L238.0,31.75 L238.5,31.90 L239.0,32.15 L239.5,32.49 L240.0,32.94 L240.5,33.48 L241.0,34.12 L241.5,34.86 L242.0,35.69 L242.5,36.61 L243.0,37.63 L243.5,38.73 L244.0,39.93 L244.5,41.21 L245.0,42.57 L245.5,44.02 L246.0,45.55 L246.5,47.16 L247.0,48.85 L247.5,50.60 L248.0,52.43 L248.5,54.33 L249.0,56.30 L249.5,58.32 L250.0,60.41 L250.5,62.55 L251.0,64.75 L251.5,67.00 L252.0,69.30 L252.5,71.65 L253.0,74.03 L253.5,76.46 L254.0,78.92 L254.5,81.41 L255.0,83.94 L255.5,86.49 L256.0,89.06 L256.5,91.65 L257.0,94.27 L257.5,96.89 L258.0,99.53 L258.5,102.18 L259.0,104.83 L259.5,107.48 L260.0,110.14 L260.5,112.79 L261.0,115.43 L261.5,118.07 L262.0,120.70 L262.5,123.32 L263.0,125.92 L263.5,128.50 L264.0,131.06 L264.5,133.60 L265.0,136.12 L265.5,138.61 L266.0,141.08 L266.5,143.51 L267.0,145.92 L267.5,148.29 L268.0,150.63 L268.5,152.93 L269.0,155.20 L269.5,157.43 L270.0,159.62 L270.5,161.77 L271.0,163.88 L271.5,165.95 L272.0,167.98 L272.5,169.97 L273.0,171.91 L273.5,173.81 L274.0,175.67 L274.5,177.48 L275.0,179.25 L275.5,180.97 L276.0,182.65 L276.5,184.28 L277.0,185.87 L277.5,187.42 L278.0,188.92 L278.5,190.38 L279.0,191.79 L279.5,193.17 L280.0,194.50 L280.5,195.78 L281.0,197.03 L281.5,198.23 L282.0,199.40 L282.5,200.52 L283.0,201.61 L283.5,202.66 L284.0,203.67 L284.5,204.64 L285.0,205.58 L285.5,206.48 L286.0,207.34 L286.5,208.18 L287.0,208.98 L287.5,209.74 L288.0,210.48 L288.5,211.19 L289.0,211.86 L289.5,212.51 L290.0,213.13 L290.5,213.72 L291.0,214.29 L291.5,214.83 L292.0,215.35 L292.5,215.84 L293.0,216.31 L293.5,216.75 L294.0,217.18 L294.5,217.59 L295.0,217.97 L295.5,218.34 L296.0,218.69 L296.5,219.02 L297.0,219.33 L297.5,219.63 L298.0,219.91 L298.5,220.18 L299.0,220.43 L299.5,220.67 L300.0,220.90 L300.5,221.11 L301.0,221.31 L301.5,221.50 L302.0,221.68 L302.5,221.85 L303.0,222.01 L303.5,222.16 L304.0,222.30 L304.5,222.44 L305.0,222.56 L305.5,222.68 L306.0,222.79 L306.5,222.89 L307.0,222.99 L307.5,223.08 L308.0,223.17 L308.5,223.25 L309.0,223.32 L309.5,223.39 L310.0,223.46 L310.5,223.52 L311.0,223.57 L311.5,223.63 L312.0,223.68 L312.5,223.72 L313.0,223.77 L313.5,223.81 L314.0,223.84 L314.5,223.88 L315.0,223.91 L315.5,223.94 L316.0,223.97 L316.5,223.99 L317.0,224.02 L317.5,224.04 L318.0,224.06 L318.5,224.08 L319.0,224.10 L319.5,224.11 L320.0,224.13 L320.5,224.14 L321.0,224.16 L321.5,224.17 L322.0,224.18 L322.5,224.19 L323.0,224.20 L323.5,224.21 L324.0,224.22 L324.5,224.22 L325.0,224.23 L325.5,224.24 L326.0,224.24 L326.5,224.25 L327.0,224.25 L327.5,224.26 L328.0,224.26 L328.5,224.26 L329.0,224.27 L329.5,224.27 L330.0,224.27 L330.5,224.27 L331.0,224.28 L331.5,224.28 L332.0,224.28 L332.5,224.28 L333.0,224.28 L333.5,224.29 L334.0,224.29 L334.5,224.29 L335.0,224.29 L335.5,224.29 L336.0,224.29 L336.5,224.29 L337.0,224.29 L337.5,224.29 L338.0,224.29 L338.5,224.29 L339.0,224.30 L339.5,224.30 L340.0,224.30 L340.5,224.30 L341.0,224.30 L341.5,224.30 L342.0,224.30 L342.5,224.30 L343.0,224.30 L343.5,224.30 L344.0,224.30 L344.5,224.30 L345.0,224.30" fill="none" stroke="#0808a8" stroke-width="2.6" stroke-linejoin="round"/>
<rect x="72.0" y="6.5" width="273.8" height="221.7" fill="none" stroke="#333" stroke-width="1.45"/>
<line x1="115.00" y1="228.2" x2="115.00" y2="220.7" stroke="#333" stroke-width="1.45"/>
<line x1="115.00" y1="6.5" x2="115.00" y2="14.0" stroke="#333" stroke-width="1.45"/>
<line x1="172.15" y1="228.2" x2="172.15" y2="220.7" stroke="#333" stroke-width="1.45"/>
<line x1="172.15" y1="6.5" x2="172.15" y2="14.0" stroke="#333" stroke-width="1.45"/>
<line x1="229.30" y1="228.2" x2="229.30" y2="220.7" stroke="#333" stroke-width="1.45"/>
<line x1="229.30" y1="6.5" x2="229.30" y2="14.0" stroke="#333" stroke-width="1.45"/>
<line x1="286.45" y1="228.2" x2="286.45" y2="220.7" stroke="#333" stroke-width="1.45"/>
<line x1="286.45" y1="6.5" x2="286.45" y2="14.0" stroke="#333" stroke-width="1.45"/>
<line x1="343.60" y1="228.2" x2="343.60" y2="220.7" stroke="#333" stroke-width="1.45"/>
<line x1="343.60" y1="6.5" x2="343.60" y2="14.0" stroke="#333" stroke-width="1.45"/>
<line x1="86.43" y1="228.2" x2="86.43" y2="224.2" stroke="#333" stroke-width="1.45"/>
<line x1="86.43" y1="6.5" x2="86.43" y2="10.5" stroke="#333" stroke-width="1.45"/>
<line x1="143.58" y1="228.2" x2="143.58" y2="224.2" stroke="#333" stroke-width="1.45"/>
<line x1="143.58" y1="6.5" x2="143.58" y2="10.5" stroke="#333" stroke-width="1.45"/>
<line x1="200.73" y1="228.2" x2="200.73" y2="224.2" stroke="#333" stroke-width="1.45"/>
<line x1="200.73" y1="6.5" x2="200.73" y2="10.5" stroke="#333" stroke-width="1.45"/>
<line x1="257.88" y1="228.2" x2="257.88" y2="224.2" stroke="#333" stroke-width="1.45"/>
<line x1="257.88" y1="6.5" x2="257.88" y2="10.5" stroke="#333" stroke-width="1.45"/>
<line x1="315.03" y1="228.2" x2="315.03" y2="224.2" stroke="#333" stroke-width="1.45"/>
<line x1="315.03" y1="6.5" x2="315.03" y2="10.5" stroke="#333" stroke-width="1.45"/>
<line x1="72.0" y1="40.10" x2="76.8" y2="40.10" stroke="#333" stroke-width="1.45"/>
<line x1="345.8" y1="40.10" x2="341.0" y2="40.10" stroke="#333" stroke-width="1.45"/>
<line x1="72.0" y1="77.40" x2="76.8" y2="77.40" stroke="#333" stroke-width="1.45"/>
<line x1="345.8" y1="77.40" x2="341.0" y2="77.40" stroke="#333" stroke-width="1.45"/>
<line x1="72.0" y1="115.10" x2="76.8" y2="115.10" stroke="#333" stroke-width="1.45"/>
<line x1="345.8" y1="115.10" x2="341.0" y2="115.10" stroke="#333" stroke-width="1.45"/>
<line x1="72.0" y1="152.60" x2="76.8" y2="152.60" stroke="#333" stroke-width="1.45"/>
<line x1="345.8" y1="152.60" x2="341.0" y2="152.60" stroke="#333" stroke-width="1.45"/>
<line x1="72.0" y1="190.10" x2="76.8" y2="190.10" stroke="#333" stroke-width="1.45"/>
<line x1="345.8" y1="190.10" x2="341.0" y2="190.10" stroke="#333" stroke-width="1.45"/>
<line x1="72.0" y1="21.50" x2="74.6" y2="21.50" stroke="#333" stroke-width="1.45"/>
<line x1="345.8" y1="21.50" x2="343.2" y2="21.50" stroke="#333" stroke-width="1.45"/>
<line x1="72.0" y1="58.90" x2="74.6" y2="58.90" stroke="#333" stroke-width="1.45"/>
<line x1="345.8" y1="58.90" x2="343.2" y2="58.90" stroke="#333" stroke-width="1.45"/>
<line x1="72.0" y1="96.50" x2="74.6" y2="96.50" stroke="#333" stroke-width="1.45"/>
<line x1="345.8" y1="96.50" x2="343.2" y2="96.50" stroke="#333" stroke-width="1.45"/>
<line x1="72.0" y1="134.00" x2="74.6" y2="134.00" stroke="#333" stroke-width="1.45"/>
<line x1="345.8" y1="134.00" x2="343.2" y2="134.00" stroke="#333" stroke-width="1.45"/>
<line x1="72.0" y1="171.50" x2="74.6" y2="171.50" stroke="#333" stroke-width="1.45"/>
<line x1="345.8" y1="171.50" x2="343.2" y2="171.50" stroke="#333" stroke-width="1.45"/>
<line x1="72.0" y1="209.00" x2="74.6" y2="209.00" stroke="#333" stroke-width="1.45"/>
<line x1="345.8" y1="209.00" x2="343.2" y2="209.00" stroke="#333" stroke-width="1.45"/>
<text x="115.00" y="247.20" font-size="17.5" text-anchor="middle" >-4.0</text>
<text x="172.15" y="247.20" font-size="17.5" text-anchor="middle" >-3.8</text>
<text x="229.30" y="247.20" font-size="17.5" text-anchor="middle" >-3.6</text>
<text x="286.45" y="247.20" font-size="17.5" text-anchor="middle" >-3.4</text>
<text x="343.60" y="247.20" font-size="17.5" text-anchor="middle" >-3.2</text>
<text x="209.60" y="264.60" font-size="18" text-anchor="middle" >Energy (eV)</text>
<text x="53.50" y="112.40" font-size="18" text-anchor="middle" transform="rotate(-90 53.5 112.4)">DOS (a.u.)</text>
<line x1="277.8" y1="23.60" x2="305" y2="23.60" stroke="#000000" stroke-width="2.8"/>
<text x="307.30" y="28.20" font-size="13.0" text-anchor="start" >0%</text>
<line x1="277.8" y1="40.20" x2="305" y2="40.20" stroke="#ff0000" stroke-width="2.8"/>
<text x="307.30" y="44.80" font-size="13.0" text-anchor="start" >10%</text>
<line x1="277.8" y1="56.80" x2="305" y2="56.80" stroke="#2222ff" stroke-width="2.8"/>
<text x="307.30" y="61.40" font-size="13.0" text-anchor="start" >30%</text>
<line x1="277.8" y1="73.40" x2="305" y2="73.40" stroke="#b42ef5" stroke-width="2.8"/>
<text x="307.30" y="78.00" font-size="13.0" text-anchor="start" >60%</text>
<line x1="277.8" y1="90.00" x2="305" y2="90.00" stroke="#009a00" stroke-width="2.8"/>
<text x="307.30" y="94.60" font-size="13.0" text-anchor="start" >80%</text>
<line x1="277.8" y1="106.60" x2="305" y2="106.60" stroke="#0808a8" stroke-width="2.8"/>
<text x="307.30" y="111.20" font-size="13.0" text-anchor="start" >100%</text>
<text x="5.00" y="17.00" font-size="20" text-anchor="start" >(a)</text>
</g>
<g id="pb">
<rect x="72.0" y="271.3" width="273.8" height="221.89999999999998" fill="none" stroke="#333" stroke-width="1.45"/>
<line x1="94.30" y1="493.2" x2="94.30" y2="485.7" stroke="#333" stroke-width="1.45"/>
<line x1="94.30" y1="271.3" x2="94.30" y2="278.8" stroke="#333" stroke-width="1.45"/>
<line x1="140.10" y1="493.2" x2="140.10" y2="485.7" stroke="#333" stroke-width="1.45"/>
<line x1="140.10" y1="271.3" x2="140.10" y2="278.8" stroke="#333" stroke-width="1.45"/>
<line x1="185.90" y1="493.2" x2="185.90" y2="485.7" stroke="#333" stroke-width="1.45"/>
<line x1="185.90" y1="271.3" x2="185.90" y2="278.8" stroke="#333" stroke-width="1.45"/>
<line x1="231.70" y1="493.2" x2="231.70" y2="485.7" stroke="#333" stroke-width="1.45"/>
<line x1="231.70" y1="271.3" x2="231.70" y2="278.8" stroke="#333" stroke-width="1.45"/>
<line x1="277.50" y1="493.2" x2="277.50" y2="485.7" stroke="#333" stroke-width="1.45"/>
<line x1="277.50" y1="271.3" x2="277.50" y2="278.8" stroke="#333" stroke-width="1.45"/>
<line x1="323.30" y1="493.2" x2="323.30" y2="485.7" stroke="#333" stroke-width="1.45"/>
<line x1="323.30" y1="271.3" x2="323.30" y2="278.8" stroke="#333" stroke-width="1.45"/>
<line x1="117.20" y1="493.2" x2="117.20" y2="489.2" stroke="#333" stroke-width="1.45"/>
<line x1="117.20" y1="271.3" x2="117.20" y2="275.3" stroke="#333" stroke-width="1.45"/>
<line x1="163.00" y1="493.2" x2="163.00" y2="489.2" stroke="#333" stroke-width="1.45"/>
<line x1="163.00" y1="271.3" x2="163.00" y2="275.3" stroke="#333" stroke-width="1.45"/>
<line x1="208.80" y1="493.2" x2="208.80" y2="489.2" stroke="#333" stroke-width="1.45"/>
<line x1="208.80" y1="271.3" x2="208.80" y2="275.3" stroke="#333" stroke-width="1.45"/>
<line x1="254.60" y1="493.2" x2="254.60" y2="489.2" stroke="#333" stroke-width="1.45"/>
<line x1="254.60" y1="271.3" x2="254.60" y2="275.3" stroke="#333" stroke-width="1.45"/>
<line x1="300.40" y1="493.2" x2="300.40" y2="489.2" stroke="#333" stroke-width="1.45"/>
<line x1="300.40" y1="271.3" x2="300.40" y2="275.3" stroke="#333" stroke-width="1.45"/>
<line x1="72.0" y1="474.70" x2="79.5" y2="474.70" stroke="#333" stroke-width="1.45"/>
<line x1="345.8" y1="474.70" x2="338.3" y2="474.70" stroke="#333" stroke-width="1.45"/>
<line x1="72.0" y1="437.70" x2="79.5" y2="437.70" stroke="#333" stroke-width="1.45"/>
<line x1="345.8" y1="437.70" x2="338.3" y2="437.70" stroke="#333" stroke-width="1.45"/>
<line x1="72.0" y1="400.70" x2="79.5" y2="400.70" stroke="#333" stroke-width="1.45"/>
<line x1="345.8" y1="400.70" x2="338.3" y2="400.70" stroke="#333" stroke-width="1.45"/>
<line x1="72.0" y1="363.70" x2="79.5" y2="363.70" stroke="#333" stroke-width="1.45"/>
<line x1="345.8" y1="363.70" x2="338.3" y2="363.70" stroke="#333" stroke-width="1.45"/>
<line x1="72.0" y1="326.70" x2="79.5" y2="326.70" stroke="#333" stroke-width="1.45"/>
<line x1="345.8" y1="326.70" x2="338.3" y2="326.70" stroke="#333" stroke-width="1.45"/>
<line x1="72.0" y1="289.70" x2="79.5" y2="289.70" stroke="#333" stroke-width="1.45"/>
<line x1="345.8" y1="289.70" x2="338.3" y2="289.70" stroke="#333" stroke-width="1.45"/>
<line x1="72.0" y1="456.20" x2="76.0" y2="456.20" stroke="#333" stroke-width="1.45"/>
<line x1="345.8" y1="456.20" x2="341.8" y2="456.20" stroke="#333" stroke-width="1.45"/>
<line x1="72.0" y1="419.20" x2="76.0" y2="419.20" stroke="#333" stroke-width="1.45"/>
<line x1="345.8" y1="419.20" x2="341.8" y2="419.20" stroke="#333" stroke-width="1.45"/>
<line x1="72.0" y1="382.20" x2="76.0" y2="382.20" stroke="#333" stroke-width="1.45"/>
<line x1="345.8" y1="382.20" x2="341.8" y2="382.20" stroke="#333" stroke-width="1.45"/>
<line x1="72.0" y1="345.20" x2="76.0" y2="345.20" stroke="#333" stroke-width="1.45"/>
<line x1="345.8" y1="345.20" x2="341.8" y2="345.20" stroke="#333" stroke-width="1.45"/>
<line x1="72.0" y1="308.20" x2="76.0" y2="308.20" stroke="#333" stroke-width="1.45"/>
<line x1="345.8" y1="308.20" x2="341.8" y2="308.20" stroke="#333" stroke-width="1.45"/>
<line x1="72.0" y1="271.20" x2="76.0" y2="271.20" stroke="#333" stroke-width="1.45"/>
<line x1="345.8" y1="271.20" x2="341.8" y2="271.20" stroke="#333" stroke-width="1.45"/>
<text x="94.30" y="510.80" font-size="17.5" text-anchor="middle" >0.0</text>
<text x="68.30" y="481.10" font-size="17.5" text-anchor="end" >0.80</text>
<text x="140.10" y="510.80" font-size="17.5" text-anchor="middle" >0.2</text>
<text x="68.30" y="444.10" font-size="17.5" text-anchor="end" >0.85</text>
<text x="185.90" y="510.80" font-size="17.5" text-anchor="middle" >0.4</text>
<text x="68.30" y="407.10" font-size="17.5" text-anchor="end" >0.90</text>
<text x="231.70" y="510.80" font-size="17.5" text-anchor="middle" >0.6</text>
<text x="68.30" y="370.10" font-size="17.5" text-anchor="end" >0.95</text>
<text x="277.50" y="510.80" font-size="17.5" text-anchor="middle" >0.8</text>
<text x="68.30" y="333.10" font-size="17.5" text-anchor="end" >1.00</text>
<text x="323.30" y="510.80" font-size="17.5" text-anchor="middle" >1.0</text>
<text x="68.30" y="296.10" font-size="17.5" text-anchor="end" >1.05</text>
<path d="M94.60,468.31 L95.60,468.25 L96.60,468.18 L97.60,468.12 L98.60,468.04 L99.60,467.97 L100.60,467.89 L101.60,467.80 L102.60,467.71 L103.60,467.62 L104.60,467.53 L105.60,467.43 L106.60,467.32 L107.60,467.22 L108.60,467.11 L109.60,466.99 L110.60,466.88 L111.60,466.76 L112.60,466.63 L113.60,466.50 L114.60,466.37 L115.60,466.24 L116.60,466.10 L117.60,465.96 L118.60,465.81 L119.60,465.67 L120.60,465.52 L121.60,465.36 L122.60,465.20 L123.60,465.04 L124.60,464.88 L125.60,464.71 L126.60,464.54 L127.60,464.37 L128.60,464.20 L129.60,464.02 L130.60,463.84 L131.60,463.65 L132.60,463.46 L133.60,463.27 L134.60,463.08 L135.60,462.89 L136.60,462.69 L137.60,462.49 L138.60,462.28 L139.60,462.08 L140.60,461.87 L141.60,461.66 L142.60,461.44 L143.60,461.22 L144.60,461.01 L145.60,460.78 L146.60,460.56 L147.60,460.33 L148.60,460.10 L149.60,459.87 L150.60,459.64 L151.60,459.40 L152.60,459.17 L153.60,458.93 L154.60,458.68 L155.60,458.44 L156.60,458.19 L157.60,457.94 L158.60,457.69 L159.60,457.44 L160.60,457.18 L161.60,456.92 L162.60,456.66 L163.60,456.40 L164.60,456.14 L165.60,455.87 L166.60,455.61 L167.60,455.34 L168.60,455.07 L169.60,454.79 L170.60,454.52 L171.60,454.24 L172.60,453.96 L173.60,453.68 L174.60,453.40 L175.60,453.12 L176.60,452.83 L177.60,452.54 L178.60,452.25 L179.60,451.96 L180.60,451.67 L181.60,451.38 L182.60,451.08 L183.60,450.78 L184.60,450.48 L185.60,450.18 L186.60,449.88 L187.60,449.58 L188.60,449.27 L189.60,448.97 L190.60,448.66 L191.60,448.35 L192.60,448.04 L193.60,447.73 L194.60,447.41 L195.60,447.10 L196.60,446.78 L197.60,446.46 L198.60,446.14 L199.60,445.82 L200.60,445.50 L201.60,445.18 L202.60,444.85 L203.60,444.53 L204.60,444.20 L205.60,443.87 L206.60,443.54 L207.60,443.21 L208.60,442.87 L209.60,442.54 L210.60,442.20 L211.60,441.86 L212.60,441.53 L213.60,441.18 L214.60,440.84 L215.60,440.50 L216.60,440.16 L217.60,439.81 L218.60,439.46 L219.60,439.11 L220.60,438.76 L221.60,438.41 L222.60,438.06 L223.60,437.70 L224.60,437.34 L225.60,436.99 L226.60,436.63 L227.60,436.26 L228.60,435.90 L229.60,435.54 L230.60,435.17 L231.60,434.80 L232.60,434.43 L233.60,434.06 L234.60,433.68 L235.60,433.31 L236.60,432.93 L237.60,432.55 L238.60,432.17 L239.60,431.78 L240.60,431.39 L241.60,431.00 L242.60,430.61 L243.60,430.22 L244.60,429.82 L245.60,429.42 L246.60,429.02 L247.60,428.61 L248.60,428.21 L249.60,427.79 L250.60,427.38 L251.60,426.96 L252.60,426.54 L253.60,426.12 L254.60,425.69 L255.60,425.25 L256.60,424.82 L257.60,424.38 L258.60,423.93 L259.60,423.48 L260.60,423.03 L261.60,422.57 L262.60,422.10 L263.60,421.63 L264.60,421.16 L265.60,420.67 L266.60,420.19 L267.60,419.69 L268.60,419.19 L269.60,418.68 L270.60,418.16 L271.60,417.64 L272.60,417.11 L273.60,416.57 L274.60,416.01 L275.60,415.45 L276.60,414.88 L277.60,414.30 L278.60,413.71 L279.60,413.10 L280.60,412.49 L281.60,411.86 L282.60,411.21 L283.60,410.55 L284.60,409.87 L285.60,409.18 L286.60,408.47 L287.60,407.74 L288.60,406.99 L289.60,406.21 L290.60,405.41 L291.60,404.59 L292.60,403.74 L293.60,402.86 L294.60,401.95 L295.60,401.01 L296.60,400.03 L297.60,399.01 L298.60,397.95 L299.60,396.84 L300.00,396.38 L300.10,396.26 L300.20,396.15 L300.30,396.03 L300.40,395.91 L300.50,395.80 L300.60,395.68 L300.70,395.56 L300.80,395.44 L300.90,395.32 L301.00,395.20 L301.10,395.08 L301.20,394.95 L301.30,394.83 L301.40,394.71 L301.50,394.58 L301.60,394.46 L301.70,394.33 L301.80,394.21 L301.90,394.08 L302.00,393.96 L302.10,393.83 L302.20,393.70 L302.30,393.57 L302.40,393.44 L302.50,393.31 L302.60,393.18 L302.70,393.05 L302.80,392.92 L302.90,392.78 L303.00,392.65 L303.10,392.52 L303.20,392.38 L303.30,392.24 L303.40,392.11 L303.50,391.97 L303.60,391.83 L303.70,391.69 L303.80,391.55 L303.90,391.41 L304.00,391.27 L304.10,391.13 L304.20,390.99 L304.30,390.85 L304.40,390.70 L304.50,390.56 L304.60,390.41 L304.70,390.26 L304.80,390.12 L304.90,389.97 L305.00,389.82 L305.10,389.67 L305.20,389.52 L305.30,389.36 L305.40,389.21 L305.50,389.06 L305.60,388.90 L305.70,388.75 L305.80,388.59 L305.90,388.43 L306.00,388.27 L306.10,388.11 L306.20,387.95 L306.30,387.79 L306.40,387.63 L306.50,387.46 L306.60,387.30 L306.70,387.13 L306.80,386.97 L306.90,386.80 L307.00,386.63 L307.10,386.46 L307.20,386.29 L307.30,386.12 L307.40,385.94 L307.50,385.77 L307.60,385.59 L307.70,385.41 L307.80,385.23 L307.90,385.05 L308.00,384.87 L308.10,384.69 L308.20,384.51 L308.30,384.32 L308.40,384.14 L308.50,383.95 L308.60,383.76 L308.70,383.57 L308.80,383.38 L308.90,383.18 L309.00,382.99 L309.10,382.79 L309.20,382.60 L309.30,382.40 L309.40,382.20 L309.50,381.99 L309.60,381.79 L309.70,381.58 L309.80,381.38 L309.90,381.17 L310.00,380.96 L310.10,380.75 L310.20,380.53 L310.30,380.32 L310.40,380.10 L310.50,379.88 L310.60,379.66 L310.70,379.44 L310.80,379.21 L310.90,378.99 L311.00,378.76 L311.10,378.53 L311.20,378.29 L311.30,378.06 L311.40,377.82 L311.50,377.58 L311.60,377.34 L311.70,377.10 L311.80,376.85 L311.90,376.61 L312.00,376.36 L312.10,376.10 L312.20,375.85 L312.30,375.59 L312.40,375.33 L312.50,375.07 L312.60,374.81 L312.70,374.54 L312.80,374.27 L312.90,374.00 L313.00,373.72 L313.10,373.44 L313.20,373.16 L313.30,372.88 L313.40,372.59 L313.50,372.30 L313.60,372.00 L313.70,371.71 L313.80,371.41 L313.90,371.10 L314.00,370.80 L314.10,370.49 L314.20,370.17 L314.30,369.86 L314.40,369.53 L314.50,369.21 L314.60,368.88 L314.70,368.55 L314.80,368.21 L314.90,367.87 L315.00,367.52 L315.10,367.18 L315.20,366.82 L315.30,366.46 L315.40,366.10 L315.50,365.73 L315.60,365.36 L315.70,364.98 L315.80,364.60 L315.90,364.21 L316.00,363.81 L316.10,363.41 L316.20,363.01 L316.30,362.60 L316.40,362.18 L316.50,361.76 L316.60,361.33 L316.70,360.89 L316.80,360.45 L316.90,359.99 L317.00,359.54 L317.10,359.07 L317.20,358.60 L317.30,358.12 L317.40,357.63 L317.50,357.13 L317.60,356.62 L317.70,356.11 L317.80,355.58 L317.90,355.05 L318.00,354.50 L318.10,353.95 L318.20,353.38 L318.30,352.80 L318.40,352.21 L318.50,351.61 L318.60,351.00 L318.70,350.37 L318.80,349.73 L318.90,349.07 L319.00,348.40 L319.10,347.72 L319.20,347.01 L319.30,346.29 L319.40,345.56 L319.50,344.80 L319.60,344.02 L319.70,343.23 L319.80,342.41 L319.90,341.56 L320.00,340.70 L320.10,339.80 L320.20,338.88 L320.30,337.93 L320.40,336.95 L320.50,335.94 L320.60,334.89 L320.70,333.80 L320.80,332.68 L320.90,331.51 L321.00,330.29 L321.10,329.02 L321.20,327.70 L321.30,326.31 L321.40,324.86 L321.50,323.34 L321.60,321.74 L321.70,320.05 L321.80,318.26 L321.90,316.36 L322.00,314.34 L322.10,312.18 L322.20,309.85 L322.30,307.34 L322.40,304.61 L322.50,301.61 L322.60,298.29 L322.72,294.50" fill="none" stroke="#000" stroke-width="3" stroke-dasharray="4.5 6.6" stroke-linecap="round"/>
<rect x="91.70" y="472.10" width="5.2" height="5.2" fill="none" stroke="#ff0000" stroke-width="2.3"/>
<rect x="93.50" y="474.10" width="1.6" height="1.3" fill="#e00"/>
<rect x="114.60" y="464.70" width="5.2" height="5.2" fill="none" stroke="#ff0000" stroke-width="2.3"/>
<rect x="116.40" y="466.70" width="1.6" height="1.3" fill="#e00"/>
<rect x="160.40" y="457.30" width="5.2" height="5.2" fill="none" stroke="#ff0000" stroke-width="2.3"/>
<rect x="162.20" y="459.30" width="1.6" height="1.3" fill="#e00"/>
<rect x="229.10" y="427.70" width="5.2" height="5.2" fill="none" stroke="#ff0000" stroke-width="2.3"/>
<rect x="230.90" y="429.70" width="1.6" height="1.3" fill="#e00"/>
<rect x="274.90" y="405.50" width="5.2" height="5.2" fill="none" stroke="#ff0000" stroke-width="2.3"/>
<rect x="276.70" y="407.50" width="1.6" height="1.3" fill="#e00"/>
<rect x="320.70" y="316.70" width="5.2" height="5.2" fill="none" stroke="#ff0000" stroke-width="2.3"/>
<rect x="322.50" y="318.70" width="1.6" height="1.3" fill="#e00"/>
<rect x="107.90" y="294.90" width="5.2" height="5.2" fill="none" stroke="#ff0000" stroke-width="2.3"/>
<rect x="109.70" y="296.90" width="1.6" height="1.3" fill="#e00"/>
<text x="125.9" y="300.4" font-size="11.85">Experimental V<tspan font-size="7.6" dy="4.3" dx="0.6">OC</tspan></text>
<text x="0" y="0" font-size="18" transform="translate(20.3 409) rotate(-90)">V<tspan font-size="11" dy="6">OC</tspan><tspan dy="-6"> (V)</tspan></text>
<text x="166.2" y="530.2" font-size="18.5">A<tspan font-size="10.5" dy="4.5" style="stroke-width:0">2</tspan><tspan dy="-4.5">/(A</tspan><tspan font-size="10.5" dy="4.5" style="stroke-width:0">2</tspan><tspan dy="-4.5">+A</tspan><tspan font-size="10.5" dy="4.5" style="stroke-width:0">1</tspan><tspan dy="-4.5">)</tspan></text>
<text x="1.20" y="270.70" font-size="20.5" text-anchor="start" >(b)</text>
</g>
<g id="pc">
<rect x="72.0" y="544" width="273.8" height="222" fill="none" stroke="#333" stroke-width="1.45"/>
<line x1="94.30" y1="766" x2="94.30" y2="758.5" stroke="#333" stroke-width="1.45"/>
<line x1="94.30" y1="544" x2="94.30" y2="551.5" stroke="#333" stroke-width="1.45"/>
<line x1="140.10" y1="766" x2="140.10" y2="758.5" stroke="#333" stroke-width="1.45"/>
<line x1="140.10" y1="544" x2="140.10" y2="551.5" stroke="#333" stroke-width="1.45"/>
<line x1="185.90" y1="766" x2="185.90" y2="758.5" stroke="#333" stroke-width="1.45"/>
<line x1="185.90" y1="544" x2="185.90" y2="551.5" stroke="#333" stroke-width="1.45"/>
<line x1="231.70" y1="766" x2="231.70" y2="758.5" stroke="#333" stroke-width="1.45"/>
<line x1="231.70" y1="544" x2="231.70" y2="551.5" stroke="#333" stroke-width="1.45"/>
<line x1="277.50" y1="766" x2="277.50" y2="758.5" stroke="#333" stroke-width="1.45"/>
<line x1="277.50" y1="544" x2="277.50" y2="551.5" stroke="#333" stroke-width="1.45"/>
<line x1="323.30" y1="766" x2="323.30" y2="758.5" stroke="#333" stroke-width="1.45"/>
<line x1="323.30" y1="544" x2="323.30" y2="551.5" stroke="#333" stroke-width="1.45"/>
<line x1="117.20" y1="766" x2="117.20" y2="762" stroke="#333" stroke-width="1.45"/>
<line x1="117.20" y1="544" x2="117.20" y2="548" stroke="#333" stroke-width="1.45"/>
<line x1="163.00" y1="766" x2="163.00" y2="762" stroke="#333" stroke-width="1.45"/>
<line x1="163.00" y1="544" x2="163.00" y2="548" stroke="#333" stroke-width="1.45"/>
<line x1="208.80" y1="766" x2="208.80" y2="762" stroke="#333" stroke-width="1.45"/>
<line x1="208.80" y1="544" x2="208.80" y2="548" stroke="#333" stroke-width="1.45"/>
<line x1="254.60" y1="766" x2="254.60" y2="762" stroke="#333" stroke-width="1.45"/>
<line x1="254.60" y1="544" x2="254.60" y2="548" stroke="#333" stroke-width="1.45"/>
<line x1="300.40" y1="766" x2="300.40" y2="762" stroke="#333" stroke-width="1.45"/>
<line x1="300.40" y1="544" x2="300.40" y2="548" stroke="#333" stroke-width="1.45"/>
<line x1="72.0" y1="579.40" x2="79.5" y2="579.40" stroke="#333" stroke-width="1.45"/>
<line x1="345.8" y1="579.40" x2="338.3" y2="579.40" stroke="#333" stroke-width="1.45"/>
<line x1="72.0" y1="616.72" x2="79.5" y2="616.72" stroke="#333" stroke-width="1.45"/>
<line x1="345.8" y1="616.72" x2="338.3" y2="616.72" stroke="#333" stroke-width="1.45"/>
<line x1="72.0" y1="654.04" x2="79.5" y2="654.04" stroke="#333" stroke-width="1.45"/>
<line x1="345.8" y1="654.04" x2="338.3" y2="654.04" stroke="#333" stroke-width="1.45"/>
<line x1="72.0" y1="691.36" x2="79.5" y2="691.36" stroke="#333" stroke-width="1.45"/>
<line x1="345.8" y1="691.36" x2="338.3" y2="691.36" stroke="#333" stroke-width="1.45"/>
<line x1="72.0" y1="728.68" x2="79.5" y2="728.68" stroke="#333" stroke-width="1.45"/>
<line x1="345.8" y1="728.68" x2="338.3" y2="728.68" stroke="#333" stroke-width="1.45"/>
<line x1="72.0" y1="766.00" x2="79.5" y2="766.00" stroke="#333" stroke-width="1.45"/>
<line x1="345.8" y1="766.00" x2="338.3" y2="766.00" stroke="#333" stroke-width="1.45"/>
<line x1="72.0" y1="560.74" x2="76.0" y2="560.74" stroke="#333" stroke-width="1.45"/>
<line x1="345.8" y1="560.74" x2="341.8" y2="560.74" stroke="#333" stroke-width="1.45"/>
<line x1="72.0" y1="598.06" x2="76.0" y2="598.06" stroke="#333" stroke-width="1.45"/>
<line x1="345.8" y1="598.06" x2="341.8" y2="598.06" stroke="#333" stroke-width="1.45"/>
<line x1="72.0" y1="635.38" x2="76.0" y2="635.38" stroke="#333" stroke-width="1.45"/>
<line x1="345.8" y1="635.38" x2="341.8" y2="635.38" stroke="#333" stroke-width="1.45"/>
<line x1="72.0" y1="672.70" x2="76.0" y2="672.70" stroke="#333" stroke-width="1.45"/>
<line x1="345.8" y1="672.70" x2="341.8" y2="672.70" stroke="#333" stroke-width="1.45"/>
<line x1="72.0" y1="710.02" x2="76.0" y2="710.02" stroke="#333" stroke-width="1.45"/>
<line x1="345.8" y1="710.02" x2="341.8" y2="710.02" stroke="#333" stroke-width="1.45"/>
<text x="94.30" y="783.50" font-size="17.5" text-anchor="middle" >0.0</text>
<text x="68.30" y="585.20" font-size="17.5" text-anchor="end" >-4.0</text>
<text x="140.10" y="783.50" font-size="17.5" text-anchor="middle" >0.2</text>
<text x="68.30" y="622.52" font-size="17.5" text-anchor="end" >-4.2</text>
<text x="185.90" y="783.50" font-size="17.5" text-anchor="middle" >0.4</text>
<text x="68.30" y="659.84" font-size="17.5" text-anchor="end" >-4.4</text>
<text x="231.70" y="783.50" font-size="17.5" text-anchor="middle" >0.6</text>
<text x="68.30" y="697.16" font-size="17.5" text-anchor="end" >-4.6</text>
<text x="277.50" y="783.50" font-size="17.5" text-anchor="middle" >0.8</text>
<text x="68.30" y="734.48" font-size="17.5" text-anchor="end" >-4.8</text>
<text x="323.30" y="783.50" font-size="17.5" text-anchor="middle" >1.0</text>
<text x="68.30" y="771.80" font-size="17.5" text-anchor="end" >-5.0</text>
<path d="M94.80,593.92 L95.80,593.92 L96.80,593.91 L97.80,593.91 L98.80,593.91 L99.80,593.90 L100.80,593.89 L101.80,593.89 L102.80,593.88 L103.80,593.87 L104.80,593.86 L105.80,593.85 L106.80,593.83 L107.80,593.82 L108.80,593.81 L109.80,593.79 L110.80,593.78 L111.80,593.76 L112.80,593.74 L113.80,593.72 L114.80,593.70 L115.80,593.68 L116.80,593.66 L117.80,593.64 L118.80,593.61 L119.80,593.59 L120.80,593.56 L121.80,593.54 L122.80,593.51 L123.80,593.48 L124.80,593.45 L125.80,593.43 L126.80,593.40 L127.80,593.36 L128.80,593.33 L129.80,593.30 L130.80,593.27 L131.80,593.23 L132.80,593.20 L133.80,593.16 L134.80,593.13 L135.80,593.09 L136.80,593.05 L137.80,593.01 L138.80,592.98 L139.80,592.94 L140.80,592.90 L141.80,592.85 L142.80,592.81 L143.80,592.77 L144.80,592.73 L145.80,592.68 L146.80,592.64 L147.80,592.59 L148.80,592.55 L149.80,592.50 L150.80,592.46 L151.80,592.41 L152.80,592.36 L153.80,592.31 L154.80,592.26 L155.80,592.21 L156.80,592.16 L157.80,592.11 L158.80,592.06 L159.80,592.01 L160.80,591.96 L161.80,591.90 L162.80,591.85 L163.80,591.79 L164.80,591.74 L165.80,591.68 L166.80,591.63 L167.80,591.57 L168.80,591.52 L169.80,591.46 L170.80,591.40 L171.80,591.34 L172.80,591.28 L173.80,591.22 L174.80,591.17 L175.80,591.11 L176.80,591.04 L177.80,590.98 L178.80,590.92 L179.80,590.86 L180.80,590.80 L181.80,590.74 L182.80,590.67 L183.80,590.61 L184.80,590.54 L185.80,590.48 L186.80,590.42 L187.80,590.35 L188.80,590.28 L189.80,590.22 L190.80,590.15 L191.80,590.09 L192.80,590.02 L193.80,589.95 L194.80,589.88 L195.80,589.81 L196.80,589.75 L197.80,589.68 L198.80,589.61 L199.80,589.54 L200.80,589.47 L201.80,589.40 L202.80,589.33 L203.80,589.25 L204.80,589.18 L205.80,589.11 L206.80,589.04 L207.80,588.97 L208.80,588.89 L209.80,588.82 L210.80,588.75 L211.80,588.67 L212.80,588.60 L213.80,588.52 L214.80,588.45 L215.80,588.37 L216.80,588.29 L217.80,588.22 L218.80,588.14 L219.80,588.06 L220.80,587.99 L221.80,587.91 L222.80,587.83 L223.80,587.75 L224.80,587.67 L225.80,587.59 L226.80,587.51 L227.80,587.43 L228.80,587.35 L229.80,587.27 L230.80,587.19 L231.80,587.10 L232.80,587.02 L233.80,586.94 L234.80,586.85 L235.80,586.77 L236.80,586.68 L237.80,586.60 L238.80,586.51 L239.80,586.43 L240.80,586.34 L241.80,586.25 L242.80,586.16 L243.80,586.07 L244.80,585.98 L245.80,585.89 L246.80,585.80 L247.80,585.71 L248.80,585.62 L249.80,585.52 L250.80,585.43 L251.80,585.33 L252.80,585.24 L253.80,585.14 L254.80,585.04 L255.80,584.94 L256.80,584.84 L257.80,584.74 L258.80,584.64 L259.80,584.53 L260.80,584.43 L261.80,584.32 L262.80,584.21 L263.80,584.10 L264.80,583.99 L265.80,583.88 L266.80,583.77 L267.80,583.65 L268.80,583.53 L269.80,583.41 L270.80,583.29 L271.80,583.17 L272.80,583.04 L273.80,582.91 L274.80,582.78 L275.80,582.65 L276.80,582.51 L277.80,582.37 L278.80,582.23 L279.80,582.09 L280.80,581.94 L281.80,581.78 L282.80,581.63 L283.80,581.47 L284.80,581.30 L285.80,581.13 L286.80,580.96 L287.80,580.78 L288.80,580.60 L289.80,580.41 L290.80,580.21 L291.80,580.01 L292.80,579.80 L293.80,579.58 L294.80,579.35 L295.80,579.12 L296.80,578.87 L297.80,578.61 L298.80,578.35 L299.80,578.07 L300.00,578.01 L300.10,577.98 L300.20,577.95 L300.30,577.92 L300.40,577.89 L300.50,577.86 L300.60,577.83 L300.70,577.80 L300.80,577.77 L300.90,577.74 L301.00,577.71 L301.10,577.68 L301.20,577.65 L301.30,577.62 L301.40,577.59 L301.50,577.56 L301.60,577.53 L301.70,577.49 L301.80,577.46 L301.90,577.43 L302.00,577.40 L302.10,577.37 L302.20,577.33 L302.30,577.30 L302.40,577.27 L302.50,577.24 L302.60,577.20 L302.70,577.17 L302.80,577.14 L302.90,577.10 L303.00,577.07 L303.10,577.04 L303.20,577.00 L303.30,576.97 L303.40,576.93 L303.50,576.90 L303.60,576.86 L303.70,576.83 L303.80,576.79 L303.90,576.76 L304.00,576.72 L304.10,576.68 L304.20,576.65 L304.30,576.61 L304.40,576.58 L304.50,576.54 L304.60,576.50 L304.70,576.46 L304.80,576.43 L304.90,576.39 L305.00,576.35 L305.10,576.31 L305.20,576.28 L305.30,576.24 L305.40,576.20 L305.50,576.16 L305.60,576.12 L305.70,576.08 L305.80,576.04 L305.90,576.00 L306.00,575.96 L306.10,575.92 L306.20,575.88 L306.30,575.84 L306.40,575.80 L306.50,575.75 L306.60,575.71 L306.70,575.67 L306.80,575.63 L306.90,575.58 L307.00,575.54 L307.10,575.50 L307.20,575.45 L307.30,575.41 L307.40,575.37 L307.50,575.32 L307.60,575.28 L307.70,575.23 L307.80,575.18 L307.90,575.14 L308.00,575.09 L308.10,575.05 L308.20,575.00 L308.30,574.95 L308.40,574.90 L308.50,574.86 L308.60,574.81 L308.70,574.76 L308.80,574.71 L308.90,574.66 L309.00,574.61 L309.10,574.56 L309.20,574.51 L309.30,574.46 L309.40,574.41 L309.50,574.36 L309.60,574.30 L309.70,574.25 L309.80,574.20 L309.90,574.14 L310.00,574.09 L310.10,574.04 L310.20,573.98 L310.30,573.93 L310.40,573.87 L310.50,573.81 L310.60,573.76 L310.70,573.70 L310.80,573.64 L310.90,573.58 L311.00,573.52 L311.10,573.47 L311.20,573.41 L311.30,573.35 L311.40,573.28 L311.50,573.22 L311.60,573.16 L311.70,573.10 L311.80,573.03 L311.90,572.97 L312.00,572.91 L312.10,572.84 L312.20,572.78 L312.30,572.71 L312.40,572.64 L312.50,572.57 L312.60,572.51 L312.70,572.44 L312.80,572.37 L312.90,572.30 L313.00,572.23 L313.10,572.15 L313.20,572.08 L313.30,572.01 L313.40,571.93 L313.50,571.86 L313.60,571.78 L313.70,571.71 L313.80,571.63 L313.90,571.55 L314.00,571.47 L314.10,571.39 L314.20,571.31 L314.30,571.23 L314.40,571.14 L314.50,571.06 L314.60,570.97 L314.70,570.89 L314.80,570.80 L314.90,570.71 L315.00,570.62 L315.10,570.53 L315.20,570.44 L315.30,570.35 L315.40,570.25 L315.50,570.16 L315.60,570.06 L315.70,569.96 L315.80,569.86 L315.90,569.76 L316.00,569.66 L316.10,569.55 L316.20,569.45 L316.30,569.34 L316.40,569.23 L316.50,569.12 L316.60,569.01 L316.70,568.90 L316.80,568.78 L316.90,568.66 L317.00,568.55 L317.10,568.42 L317.20,568.30 L317.30,568.18 L317.40,568.05 L317.50,567.92 L317.60,567.79 L317.70,567.65 L317.80,567.51 L317.90,567.37 L318.00,567.23 L318.10,567.09 L318.20,566.94 L318.30,566.79 L318.40,566.64 L318.50,566.48 L318.60,566.32 L318.70,566.15 L318.80,565.99 L318.90,565.81 L319.00,565.64 L319.10,565.46 L319.20,565.28 L319.30,565.09 L319.40,564.89 L319.50,564.70 L319.60,564.49 L319.70,564.28 L319.80,564.07 L319.90,563.85 L320.00,563.62 L320.10,563.39 L320.20,563.15 L320.30,562.90 L320.40,562.64 L320.50,562.38 L320.60,562.10 L320.70,561.81 L320.80,561.52 L320.90,561.21 L321.00,560.89 L321.10,560.56 L321.20,560.21 L321.30,559.85 L321.40,559.47 L321.50,559.07 L321.60,558.65 L321.70,558.20 L321.80,557.73 L321.90,557.23 L322.00,556.70 L322.10,556.13 L322.20,555.52 L322.30,554.86 L322.40,554.14 L322.50,553.35 L322.60,552.48 L322.72,551.48" fill="none" stroke="#ff0000" stroke-width="3" stroke-dasharray="3.5 7.5963" stroke-linecap="round"/>
<path d="M94.8,744.5 L321.6,747.4" fill="none" stroke="#000" stroke-width="3" stroke-dasharray="4.5 6.6" stroke-linecap="round"/>
<line x1="243.5" y1="604.3" x2="243.5" y2="730" stroke="#000" stroke-width="2.2" stroke-dasharray="5.8 9.05" stroke-linecap="round"/>
<path d="M243.5,588.9 L245.9,597.6 L243.5,595.6 L241.1,597.6 Z" fill="#000" stroke="#000" stroke-width="0.6" stroke-linejoin="round"/>
<path d="M243.6,742.4 L246.1,733.0 L243.6,735.0 L241.1,733.0 Z" fill="#000" stroke="#000" stroke-width="0.6" stroke-linejoin="round"/>
<text x="251.9" y="667.2" font-size="14.3">V<tspan font-size="9" dy="5">OC</tspan></text>
<text x="145.8" y="611.2" font-size="13.5" font-style="italic">E<tspan font-size="8.6" dy="4.9">fe</tspan></text>
<text x="144.2" y="733.8" font-size="13.5" font-style="italic">E<tspan font-size="8.6" dy="4.9">fh</tspan></text>
<text x="28.60" y="651.40" font-size="18.3" text-anchor="middle" transform="rotate(-90 28.6 651.4)">Energy (eV)</text>
<text x="166.0" y="803.3" font-size="18.5">A<tspan font-size="10.5" dy="4.5" style="stroke-width:0">2</tspan><tspan dy="-4.5">/(A</tspan><tspan font-size="10.5" dy="4.5" style="stroke-width:0">2</tspan><tspan dy="-4.5">+A</tspan><tspan font-size="10.5" dy="4.5" style="stroke-width:0">1</tspan><tspan dy="-4.5">)</tspan></text>
<text x="2.40" y="543.00" font-size="20" text-anchor="start" >(c)</text>
</g>
</svg></body></html>
